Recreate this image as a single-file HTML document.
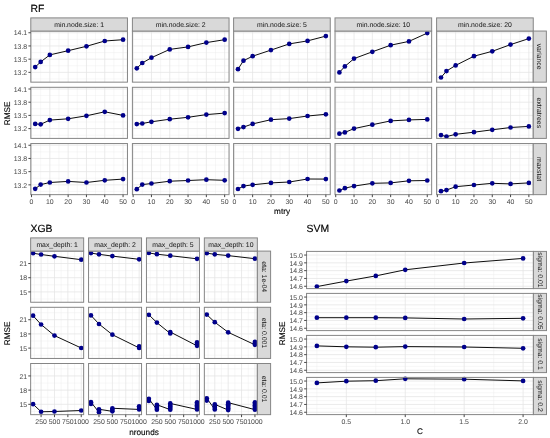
<!DOCTYPE html>
<html><head><meta charset="utf-8"><title>Model tuning results</title>
<style>html,body{margin:0;padding:0;background:#fff;}svg{display:block;filter:blur(0.35px);}</style>
</head><body>
<svg width="550" height="438" viewBox="0 0 550 438" font-family='"Liberation Sans", Arial, sans-serif' text-rendering="geometricPrecision">
<rect x="0" y="0" width="550" height="438" fill="#FFFFFF" stroke="none" stroke-width="0"/>
<rect x="30.8" y="31.05" width="96.65" height="51.1" fill="#FFFFFF" stroke="none" stroke-width="0"/>
<line x1="40.68" y1="31.05" x2="40.68" y2="82.15" stroke="#EBEBEB" stroke-width="0.4"/>
<line x1="58.99" y1="31.05" x2="58.99" y2="82.15" stroke="#EBEBEB" stroke-width="0.4"/>
<line x1="77.29" y1="31.05" x2="77.29" y2="82.15" stroke="#EBEBEB" stroke-width="0.4"/>
<line x1="95.6" y1="31.05" x2="95.6" y2="82.15" stroke="#EBEBEB" stroke-width="0.4"/>
<line x1="113.9" y1="31.05" x2="113.9" y2="82.15" stroke="#EBEBEB" stroke-width="0.4"/>
<line x1="30.8" y1="78.95" x2="127.45" y2="78.95" stroke="#EBEBEB" stroke-width="0.4"/>
<line x1="30.8" y1="65.75" x2="127.45" y2="65.75" stroke="#EBEBEB" stroke-width="0.4"/>
<line x1="30.8" y1="52.55" x2="127.45" y2="52.55" stroke="#EBEBEB" stroke-width="0.4"/>
<line x1="30.8" y1="39.35" x2="127.45" y2="39.35" stroke="#EBEBEB" stroke-width="0.4"/>
<line x1="31.53" y1="31.05" x2="31.53" y2="82.15" stroke="#E4E4E4" stroke-width="0.75"/>
<line x1="49.84" y1="31.05" x2="49.84" y2="82.15" stroke="#E4E4E4" stroke-width="0.75"/>
<line x1="68.14" y1="31.05" x2="68.14" y2="82.15" stroke="#E4E4E4" stroke-width="0.75"/>
<line x1="86.45" y1="31.05" x2="86.45" y2="82.15" stroke="#E4E4E4" stroke-width="0.75"/>
<line x1="104.75" y1="31.05" x2="104.75" y2="82.15" stroke="#E4E4E4" stroke-width="0.75"/>
<line x1="123.06" y1="31.05" x2="123.06" y2="82.15" stroke="#E4E4E4" stroke-width="0.75"/>
<line x1="30.8" y1="72.35" x2="127.45" y2="72.35" stroke="#E4E4E4" stroke-width="0.75"/>
<line x1="30.8" y1="59.15" x2="127.45" y2="59.15" stroke="#E4E4E4" stroke-width="0.75"/>
<line x1="30.8" y1="45.95" x2="127.45" y2="45.95" stroke="#E4E4E4" stroke-width="0.75"/>
<line x1="30.8" y1="32.75" x2="127.45" y2="32.75" stroke="#E4E4E4" stroke-width="0.75"/>
<polyline points="35.19,67.1 40.68,61.9 49.84,54.9 68.14,50.7 86.45,46.3 104.75,41 123.06,39.7" fill="none" stroke="#000000" stroke-width="0.95" stroke-linejoin="round"/>
<circle cx="35.19" cy="67.1" r="2.35" fill="#00008B"/>
<circle cx="40.68" cy="61.9" r="2.35" fill="#00008B"/>
<circle cx="49.84" cy="54.9" r="2.35" fill="#00008B"/>
<circle cx="68.14" cy="50.7" r="2.35" fill="#00008B"/>
<circle cx="86.45" cy="46.3" r="2.35" fill="#00008B"/>
<circle cx="104.75" cy="41" r="2.35" fill="#00008B"/>
<circle cx="123.06" cy="39.7" r="2.35" fill="#00008B"/>
<rect x="30.8" y="31.05" width="96.65" height="51.1" fill="none" stroke="#858585" stroke-width="1.0"/>
<rect x="132.4" y="31.05" width="96.65" height="51.1" fill="#FFFFFF" stroke="none" stroke-width="0"/>
<line x1="142.28" y1="31.05" x2="142.28" y2="82.15" stroke="#EBEBEB" stroke-width="0.4"/>
<line x1="160.59" y1="31.05" x2="160.59" y2="82.15" stroke="#EBEBEB" stroke-width="0.4"/>
<line x1="178.89" y1="31.05" x2="178.89" y2="82.15" stroke="#EBEBEB" stroke-width="0.4"/>
<line x1="197.2" y1="31.05" x2="197.2" y2="82.15" stroke="#EBEBEB" stroke-width="0.4"/>
<line x1="215.5" y1="31.05" x2="215.5" y2="82.15" stroke="#EBEBEB" stroke-width="0.4"/>
<line x1="132.4" y1="78.95" x2="229.05" y2="78.95" stroke="#EBEBEB" stroke-width="0.4"/>
<line x1="132.4" y1="65.75" x2="229.05" y2="65.75" stroke="#EBEBEB" stroke-width="0.4"/>
<line x1="132.4" y1="52.55" x2="229.05" y2="52.55" stroke="#EBEBEB" stroke-width="0.4"/>
<line x1="132.4" y1="39.35" x2="229.05" y2="39.35" stroke="#EBEBEB" stroke-width="0.4"/>
<line x1="133.13" y1="31.05" x2="133.13" y2="82.15" stroke="#E4E4E4" stroke-width="0.75"/>
<line x1="151.44" y1="31.05" x2="151.44" y2="82.15" stroke="#E4E4E4" stroke-width="0.75"/>
<line x1="169.74" y1="31.05" x2="169.74" y2="82.15" stroke="#E4E4E4" stroke-width="0.75"/>
<line x1="188.05" y1="31.05" x2="188.05" y2="82.15" stroke="#E4E4E4" stroke-width="0.75"/>
<line x1="206.35" y1="31.05" x2="206.35" y2="82.15" stroke="#E4E4E4" stroke-width="0.75"/>
<line x1="224.66" y1="31.05" x2="224.66" y2="82.15" stroke="#E4E4E4" stroke-width="0.75"/>
<line x1="132.4" y1="72.35" x2="229.05" y2="72.35" stroke="#E4E4E4" stroke-width="0.75"/>
<line x1="132.4" y1="59.15" x2="229.05" y2="59.15" stroke="#E4E4E4" stroke-width="0.75"/>
<line x1="132.4" y1="45.95" x2="229.05" y2="45.95" stroke="#E4E4E4" stroke-width="0.75"/>
<line x1="132.4" y1="32.75" x2="229.05" y2="32.75" stroke="#E4E4E4" stroke-width="0.75"/>
<polyline points="136.79,68.3 142.28,63 151.44,57.7 169.74,49.4 188.05,46.9 206.35,42.6 224.66,39.7" fill="none" stroke="#000000" stroke-width="0.95" stroke-linejoin="round"/>
<circle cx="136.79" cy="68.3" r="2.35" fill="#00008B"/>
<circle cx="142.28" cy="63" r="2.35" fill="#00008B"/>
<circle cx="151.44" cy="57.7" r="2.35" fill="#00008B"/>
<circle cx="169.74" cy="49.4" r="2.35" fill="#00008B"/>
<circle cx="188.05" cy="46.9" r="2.35" fill="#00008B"/>
<circle cx="206.35" cy="42.6" r="2.35" fill="#00008B"/>
<circle cx="224.66" cy="39.7" r="2.35" fill="#00008B"/>
<rect x="132.4" y="31.05" width="96.65" height="51.1" fill="none" stroke="#858585" stroke-width="1.0"/>
<rect x="233.6" y="31.05" width="96.65" height="51.1" fill="#FFFFFF" stroke="none" stroke-width="0"/>
<line x1="243.48" y1="31.05" x2="243.48" y2="82.15" stroke="#EBEBEB" stroke-width="0.4"/>
<line x1="261.79" y1="31.05" x2="261.79" y2="82.15" stroke="#EBEBEB" stroke-width="0.4"/>
<line x1="280.09" y1="31.05" x2="280.09" y2="82.15" stroke="#EBEBEB" stroke-width="0.4"/>
<line x1="298.4" y1="31.05" x2="298.4" y2="82.15" stroke="#EBEBEB" stroke-width="0.4"/>
<line x1="316.7" y1="31.05" x2="316.7" y2="82.15" stroke="#EBEBEB" stroke-width="0.4"/>
<line x1="233.6" y1="78.95" x2="330.25" y2="78.95" stroke="#EBEBEB" stroke-width="0.4"/>
<line x1="233.6" y1="65.75" x2="330.25" y2="65.75" stroke="#EBEBEB" stroke-width="0.4"/>
<line x1="233.6" y1="52.55" x2="330.25" y2="52.55" stroke="#EBEBEB" stroke-width="0.4"/>
<line x1="233.6" y1="39.35" x2="330.25" y2="39.35" stroke="#EBEBEB" stroke-width="0.4"/>
<line x1="234.33" y1="31.05" x2="234.33" y2="82.15" stroke="#E4E4E4" stroke-width="0.75"/>
<line x1="252.64" y1="31.05" x2="252.64" y2="82.15" stroke="#E4E4E4" stroke-width="0.75"/>
<line x1="270.94" y1="31.05" x2="270.94" y2="82.15" stroke="#E4E4E4" stroke-width="0.75"/>
<line x1="289.25" y1="31.05" x2="289.25" y2="82.15" stroke="#E4E4E4" stroke-width="0.75"/>
<line x1="307.55" y1="31.05" x2="307.55" y2="82.15" stroke="#E4E4E4" stroke-width="0.75"/>
<line x1="325.86" y1="31.05" x2="325.86" y2="82.15" stroke="#E4E4E4" stroke-width="0.75"/>
<line x1="233.6" y1="72.35" x2="330.25" y2="72.35" stroke="#E4E4E4" stroke-width="0.75"/>
<line x1="233.6" y1="59.15" x2="330.25" y2="59.15" stroke="#E4E4E4" stroke-width="0.75"/>
<line x1="233.6" y1="45.95" x2="330.25" y2="45.95" stroke="#E4E4E4" stroke-width="0.75"/>
<line x1="233.6" y1="32.75" x2="330.25" y2="32.75" stroke="#E4E4E4" stroke-width="0.75"/>
<polyline points="237.99,69.2 243.48,60.7 252.64,56.2 270.94,50.1 289.25,43.9 307.55,40.9 325.86,36.1" fill="none" stroke="#000000" stroke-width="0.95" stroke-linejoin="round"/>
<circle cx="237.99" cy="69.2" r="2.35" fill="#00008B"/>
<circle cx="243.48" cy="60.7" r="2.35" fill="#00008B"/>
<circle cx="252.64" cy="56.2" r="2.35" fill="#00008B"/>
<circle cx="270.94" cy="50.1" r="2.35" fill="#00008B"/>
<circle cx="289.25" cy="43.9" r="2.35" fill="#00008B"/>
<circle cx="307.55" cy="40.9" r="2.35" fill="#00008B"/>
<circle cx="325.86" cy="36.1" r="2.35" fill="#00008B"/>
<rect x="233.6" y="31.05" width="96.65" height="51.1" fill="none" stroke="#858585" stroke-width="1.0"/>
<rect x="335" y="31.05" width="96.65" height="51.1" fill="#FFFFFF" stroke="none" stroke-width="0"/>
<line x1="344.88" y1="31.05" x2="344.88" y2="82.15" stroke="#EBEBEB" stroke-width="0.4"/>
<line x1="363.19" y1="31.05" x2="363.19" y2="82.15" stroke="#EBEBEB" stroke-width="0.4"/>
<line x1="381.49" y1="31.05" x2="381.49" y2="82.15" stroke="#EBEBEB" stroke-width="0.4"/>
<line x1="399.8" y1="31.05" x2="399.8" y2="82.15" stroke="#EBEBEB" stroke-width="0.4"/>
<line x1="418.1" y1="31.05" x2="418.1" y2="82.15" stroke="#EBEBEB" stroke-width="0.4"/>
<line x1="335" y1="78.95" x2="431.65" y2="78.95" stroke="#EBEBEB" stroke-width="0.4"/>
<line x1="335" y1="65.75" x2="431.65" y2="65.75" stroke="#EBEBEB" stroke-width="0.4"/>
<line x1="335" y1="52.55" x2="431.65" y2="52.55" stroke="#EBEBEB" stroke-width="0.4"/>
<line x1="335" y1="39.35" x2="431.65" y2="39.35" stroke="#EBEBEB" stroke-width="0.4"/>
<line x1="335.73" y1="31.05" x2="335.73" y2="82.15" stroke="#E4E4E4" stroke-width="0.75"/>
<line x1="354.04" y1="31.05" x2="354.04" y2="82.15" stroke="#E4E4E4" stroke-width="0.75"/>
<line x1="372.34" y1="31.05" x2="372.34" y2="82.15" stroke="#E4E4E4" stroke-width="0.75"/>
<line x1="390.65" y1="31.05" x2="390.65" y2="82.15" stroke="#E4E4E4" stroke-width="0.75"/>
<line x1="408.95" y1="31.05" x2="408.95" y2="82.15" stroke="#E4E4E4" stroke-width="0.75"/>
<line x1="427.26" y1="31.05" x2="427.26" y2="82.15" stroke="#E4E4E4" stroke-width="0.75"/>
<line x1="335" y1="72.35" x2="431.65" y2="72.35" stroke="#E4E4E4" stroke-width="0.75"/>
<line x1="335" y1="59.15" x2="431.65" y2="59.15" stroke="#E4E4E4" stroke-width="0.75"/>
<line x1="335" y1="45.95" x2="431.65" y2="45.95" stroke="#E4E4E4" stroke-width="0.75"/>
<line x1="335" y1="32.75" x2="431.65" y2="32.75" stroke="#E4E4E4" stroke-width="0.75"/>
<polyline points="339.39,72.4 344.88,66.4 354.04,58.6 372.34,51.8 390.65,45.2 408.95,41.4 427.26,33.1" fill="none" stroke="#000000" stroke-width="0.95" stroke-linejoin="round"/>
<circle cx="339.39" cy="72.4" r="2.35" fill="#00008B"/>
<circle cx="344.88" cy="66.4" r="2.35" fill="#00008B"/>
<circle cx="354.04" cy="58.6" r="2.35" fill="#00008B"/>
<circle cx="372.34" cy="51.8" r="2.35" fill="#00008B"/>
<circle cx="390.65" cy="45.2" r="2.35" fill="#00008B"/>
<circle cx="408.95" cy="41.4" r="2.35" fill="#00008B"/>
<circle cx="427.26" cy="33.1" r="2.35" fill="#00008B"/>
<rect x="335" y="31.05" width="96.65" height="51.1" fill="none" stroke="#858585" stroke-width="1.0"/>
<rect x="436.6" y="31.05" width="96.65" height="51.1" fill="#FFFFFF" stroke="none" stroke-width="0"/>
<line x1="446.48" y1="31.05" x2="446.48" y2="82.15" stroke="#EBEBEB" stroke-width="0.4"/>
<line x1="464.79" y1="31.05" x2="464.79" y2="82.15" stroke="#EBEBEB" stroke-width="0.4"/>
<line x1="483.09" y1="31.05" x2="483.09" y2="82.15" stroke="#EBEBEB" stroke-width="0.4"/>
<line x1="501.4" y1="31.05" x2="501.4" y2="82.15" stroke="#EBEBEB" stroke-width="0.4"/>
<line x1="519.7" y1="31.05" x2="519.7" y2="82.15" stroke="#EBEBEB" stroke-width="0.4"/>
<line x1="436.6" y1="78.95" x2="533.25" y2="78.95" stroke="#EBEBEB" stroke-width="0.4"/>
<line x1="436.6" y1="65.75" x2="533.25" y2="65.75" stroke="#EBEBEB" stroke-width="0.4"/>
<line x1="436.6" y1="52.55" x2="533.25" y2="52.55" stroke="#EBEBEB" stroke-width="0.4"/>
<line x1="436.6" y1="39.35" x2="533.25" y2="39.35" stroke="#EBEBEB" stroke-width="0.4"/>
<line x1="437.33" y1="31.05" x2="437.33" y2="82.15" stroke="#E4E4E4" stroke-width="0.75"/>
<line x1="455.64" y1="31.05" x2="455.64" y2="82.15" stroke="#E4E4E4" stroke-width="0.75"/>
<line x1="473.94" y1="31.05" x2="473.94" y2="82.15" stroke="#E4E4E4" stroke-width="0.75"/>
<line x1="492.25" y1="31.05" x2="492.25" y2="82.15" stroke="#E4E4E4" stroke-width="0.75"/>
<line x1="510.55" y1="31.05" x2="510.55" y2="82.15" stroke="#E4E4E4" stroke-width="0.75"/>
<line x1="528.86" y1="31.05" x2="528.86" y2="82.15" stroke="#E4E4E4" stroke-width="0.75"/>
<line x1="436.6" y1="72.35" x2="533.25" y2="72.35" stroke="#E4E4E4" stroke-width="0.75"/>
<line x1="436.6" y1="59.15" x2="533.25" y2="59.15" stroke="#E4E4E4" stroke-width="0.75"/>
<line x1="436.6" y1="45.95" x2="533.25" y2="45.95" stroke="#E4E4E4" stroke-width="0.75"/>
<line x1="436.6" y1="32.75" x2="533.25" y2="32.75" stroke="#E4E4E4" stroke-width="0.75"/>
<polyline points="440.99,77.5 446.48,71.1 455.64,65.4 473.94,56.2 492.25,51.3 510.55,44.6 528.86,38.6" fill="none" stroke="#000000" stroke-width="0.95" stroke-linejoin="round"/>
<circle cx="440.99" cy="77.5" r="2.35" fill="#00008B"/>
<circle cx="446.48" cy="71.1" r="2.35" fill="#00008B"/>
<circle cx="455.64" cy="65.4" r="2.35" fill="#00008B"/>
<circle cx="473.94" cy="56.2" r="2.35" fill="#00008B"/>
<circle cx="492.25" cy="51.3" r="2.35" fill="#00008B"/>
<circle cx="510.55" cy="44.6" r="2.35" fill="#00008B"/>
<circle cx="528.86" cy="38.6" r="2.35" fill="#00008B"/>
<rect x="436.6" y="31.05" width="96.65" height="51.1" fill="none" stroke="#858585" stroke-width="1.0"/>
<rect x="30.8" y="87.3" width="96.65" height="51.1" fill="#FFFFFF" stroke="none" stroke-width="0"/>
<line x1="40.68" y1="87.3" x2="40.68" y2="138.4" stroke="#EBEBEB" stroke-width="0.4"/>
<line x1="58.99" y1="87.3" x2="58.99" y2="138.4" stroke="#EBEBEB" stroke-width="0.4"/>
<line x1="77.29" y1="87.3" x2="77.29" y2="138.4" stroke="#EBEBEB" stroke-width="0.4"/>
<line x1="95.6" y1="87.3" x2="95.6" y2="138.4" stroke="#EBEBEB" stroke-width="0.4"/>
<line x1="113.9" y1="87.3" x2="113.9" y2="138.4" stroke="#EBEBEB" stroke-width="0.4"/>
<line x1="30.8" y1="135.2" x2="127.45" y2="135.2" stroke="#EBEBEB" stroke-width="0.4"/>
<line x1="30.8" y1="122" x2="127.45" y2="122" stroke="#EBEBEB" stroke-width="0.4"/>
<line x1="30.8" y1="108.8" x2="127.45" y2="108.8" stroke="#EBEBEB" stroke-width="0.4"/>
<line x1="30.8" y1="95.6" x2="127.45" y2="95.6" stroke="#EBEBEB" stroke-width="0.4"/>
<line x1="31.53" y1="87.3" x2="31.53" y2="138.4" stroke="#E4E4E4" stroke-width="0.75"/>
<line x1="49.84" y1="87.3" x2="49.84" y2="138.4" stroke="#E4E4E4" stroke-width="0.75"/>
<line x1="68.14" y1="87.3" x2="68.14" y2="138.4" stroke="#E4E4E4" stroke-width="0.75"/>
<line x1="86.45" y1="87.3" x2="86.45" y2="138.4" stroke="#E4E4E4" stroke-width="0.75"/>
<line x1="104.75" y1="87.3" x2="104.75" y2="138.4" stroke="#E4E4E4" stroke-width="0.75"/>
<line x1="123.06" y1="87.3" x2="123.06" y2="138.4" stroke="#E4E4E4" stroke-width="0.75"/>
<line x1="30.8" y1="128.6" x2="127.45" y2="128.6" stroke="#E4E4E4" stroke-width="0.75"/>
<line x1="30.8" y1="115.4" x2="127.45" y2="115.4" stroke="#E4E4E4" stroke-width="0.75"/>
<line x1="30.8" y1="102.2" x2="127.45" y2="102.2" stroke="#E4E4E4" stroke-width="0.75"/>
<line x1="30.8" y1="89" x2="127.45" y2="89" stroke="#E4E4E4" stroke-width="0.75"/>
<polyline points="35.19,123.9 40.68,124.3 49.84,120.1 68.14,118.8 86.45,115.8 104.75,111.8 123.06,115.4" fill="none" stroke="#000000" stroke-width="0.95" stroke-linejoin="round"/>
<circle cx="35.19" cy="123.9" r="2.35" fill="#00008B"/>
<circle cx="40.68" cy="124.3" r="2.35" fill="#00008B"/>
<circle cx="49.84" cy="120.1" r="2.35" fill="#00008B"/>
<circle cx="68.14" cy="118.8" r="2.35" fill="#00008B"/>
<circle cx="86.45" cy="115.8" r="2.35" fill="#00008B"/>
<circle cx="104.75" cy="111.8" r="2.35" fill="#00008B"/>
<circle cx="123.06" cy="115.4" r="2.35" fill="#00008B"/>
<rect x="30.8" y="87.3" width="96.65" height="51.1" fill="none" stroke="#858585" stroke-width="1.0"/>
<rect x="132.4" y="87.3" width="96.65" height="51.1" fill="#FFFFFF" stroke="none" stroke-width="0"/>
<line x1="142.28" y1="87.3" x2="142.28" y2="138.4" stroke="#EBEBEB" stroke-width="0.4"/>
<line x1="160.59" y1="87.3" x2="160.59" y2="138.4" stroke="#EBEBEB" stroke-width="0.4"/>
<line x1="178.89" y1="87.3" x2="178.89" y2="138.4" stroke="#EBEBEB" stroke-width="0.4"/>
<line x1="197.2" y1="87.3" x2="197.2" y2="138.4" stroke="#EBEBEB" stroke-width="0.4"/>
<line x1="215.5" y1="87.3" x2="215.5" y2="138.4" stroke="#EBEBEB" stroke-width="0.4"/>
<line x1="132.4" y1="135.2" x2="229.05" y2="135.2" stroke="#EBEBEB" stroke-width="0.4"/>
<line x1="132.4" y1="122" x2="229.05" y2="122" stroke="#EBEBEB" stroke-width="0.4"/>
<line x1="132.4" y1="108.8" x2="229.05" y2="108.8" stroke="#EBEBEB" stroke-width="0.4"/>
<line x1="132.4" y1="95.6" x2="229.05" y2="95.6" stroke="#EBEBEB" stroke-width="0.4"/>
<line x1="133.13" y1="87.3" x2="133.13" y2="138.4" stroke="#E4E4E4" stroke-width="0.75"/>
<line x1="151.44" y1="87.3" x2="151.44" y2="138.4" stroke="#E4E4E4" stroke-width="0.75"/>
<line x1="169.74" y1="87.3" x2="169.74" y2="138.4" stroke="#E4E4E4" stroke-width="0.75"/>
<line x1="188.05" y1="87.3" x2="188.05" y2="138.4" stroke="#E4E4E4" stroke-width="0.75"/>
<line x1="206.35" y1="87.3" x2="206.35" y2="138.4" stroke="#E4E4E4" stroke-width="0.75"/>
<line x1="224.66" y1="87.3" x2="224.66" y2="138.4" stroke="#E4E4E4" stroke-width="0.75"/>
<line x1="132.4" y1="128.6" x2="229.05" y2="128.6" stroke="#E4E4E4" stroke-width="0.75"/>
<line x1="132.4" y1="115.4" x2="229.05" y2="115.4" stroke="#E4E4E4" stroke-width="0.75"/>
<line x1="132.4" y1="102.2" x2="229.05" y2="102.2" stroke="#E4E4E4" stroke-width="0.75"/>
<line x1="132.4" y1="89" x2="229.05" y2="89" stroke="#E4E4E4" stroke-width="0.75"/>
<polyline points="136.79,124.1 142.28,123.5 151.44,121.8 169.74,119.2 188.05,117.3 206.35,114.6 224.66,113.1" fill="none" stroke="#000000" stroke-width="0.95" stroke-linejoin="round"/>
<circle cx="136.79" cy="124.1" r="2.35" fill="#00008B"/>
<circle cx="142.28" cy="123.5" r="2.35" fill="#00008B"/>
<circle cx="151.44" cy="121.8" r="2.35" fill="#00008B"/>
<circle cx="169.74" cy="119.2" r="2.35" fill="#00008B"/>
<circle cx="188.05" cy="117.3" r="2.35" fill="#00008B"/>
<circle cx="206.35" cy="114.6" r="2.35" fill="#00008B"/>
<circle cx="224.66" cy="113.1" r="2.35" fill="#00008B"/>
<rect x="132.4" y="87.3" width="96.65" height="51.1" fill="none" stroke="#858585" stroke-width="1.0"/>
<rect x="233.6" y="87.3" width="96.65" height="51.1" fill="#FFFFFF" stroke="none" stroke-width="0"/>
<line x1="243.48" y1="87.3" x2="243.48" y2="138.4" stroke="#EBEBEB" stroke-width="0.4"/>
<line x1="261.79" y1="87.3" x2="261.79" y2="138.4" stroke="#EBEBEB" stroke-width="0.4"/>
<line x1="280.09" y1="87.3" x2="280.09" y2="138.4" stroke="#EBEBEB" stroke-width="0.4"/>
<line x1="298.4" y1="87.3" x2="298.4" y2="138.4" stroke="#EBEBEB" stroke-width="0.4"/>
<line x1="316.7" y1="87.3" x2="316.7" y2="138.4" stroke="#EBEBEB" stroke-width="0.4"/>
<line x1="233.6" y1="135.2" x2="330.25" y2="135.2" stroke="#EBEBEB" stroke-width="0.4"/>
<line x1="233.6" y1="122" x2="330.25" y2="122" stroke="#EBEBEB" stroke-width="0.4"/>
<line x1="233.6" y1="108.8" x2="330.25" y2="108.8" stroke="#EBEBEB" stroke-width="0.4"/>
<line x1="233.6" y1="95.6" x2="330.25" y2="95.6" stroke="#EBEBEB" stroke-width="0.4"/>
<line x1="234.33" y1="87.3" x2="234.33" y2="138.4" stroke="#E4E4E4" stroke-width="0.75"/>
<line x1="252.64" y1="87.3" x2="252.64" y2="138.4" stroke="#E4E4E4" stroke-width="0.75"/>
<line x1="270.94" y1="87.3" x2="270.94" y2="138.4" stroke="#E4E4E4" stroke-width="0.75"/>
<line x1="289.25" y1="87.3" x2="289.25" y2="138.4" stroke="#E4E4E4" stroke-width="0.75"/>
<line x1="307.55" y1="87.3" x2="307.55" y2="138.4" stroke="#E4E4E4" stroke-width="0.75"/>
<line x1="325.86" y1="87.3" x2="325.86" y2="138.4" stroke="#E4E4E4" stroke-width="0.75"/>
<line x1="233.6" y1="128.6" x2="330.25" y2="128.6" stroke="#E4E4E4" stroke-width="0.75"/>
<line x1="233.6" y1="115.4" x2="330.25" y2="115.4" stroke="#E4E4E4" stroke-width="0.75"/>
<line x1="233.6" y1="102.2" x2="330.25" y2="102.2" stroke="#E4E4E4" stroke-width="0.75"/>
<line x1="233.6" y1="89" x2="330.25" y2="89" stroke="#E4E4E4" stroke-width="0.75"/>
<polyline points="237.99,128.8 243.48,127.1 252.64,123.9 270.94,119.7 289.25,118.6 307.55,116 325.86,114.3" fill="none" stroke="#000000" stroke-width="0.95" stroke-linejoin="round"/>
<circle cx="237.99" cy="128.8" r="2.35" fill="#00008B"/>
<circle cx="243.48" cy="127.1" r="2.35" fill="#00008B"/>
<circle cx="252.64" cy="123.9" r="2.35" fill="#00008B"/>
<circle cx="270.94" cy="119.7" r="2.35" fill="#00008B"/>
<circle cx="289.25" cy="118.6" r="2.35" fill="#00008B"/>
<circle cx="307.55" cy="116" r="2.35" fill="#00008B"/>
<circle cx="325.86" cy="114.3" r="2.35" fill="#00008B"/>
<rect x="233.6" y="87.3" width="96.65" height="51.1" fill="none" stroke="#858585" stroke-width="1.0"/>
<rect x="335" y="87.3" width="96.65" height="51.1" fill="#FFFFFF" stroke="none" stroke-width="0"/>
<line x1="344.88" y1="87.3" x2="344.88" y2="138.4" stroke="#EBEBEB" stroke-width="0.4"/>
<line x1="363.19" y1="87.3" x2="363.19" y2="138.4" stroke="#EBEBEB" stroke-width="0.4"/>
<line x1="381.49" y1="87.3" x2="381.49" y2="138.4" stroke="#EBEBEB" stroke-width="0.4"/>
<line x1="399.8" y1="87.3" x2="399.8" y2="138.4" stroke="#EBEBEB" stroke-width="0.4"/>
<line x1="418.1" y1="87.3" x2="418.1" y2="138.4" stroke="#EBEBEB" stroke-width="0.4"/>
<line x1="335" y1="135.2" x2="431.65" y2="135.2" stroke="#EBEBEB" stroke-width="0.4"/>
<line x1="335" y1="122" x2="431.65" y2="122" stroke="#EBEBEB" stroke-width="0.4"/>
<line x1="335" y1="108.8" x2="431.65" y2="108.8" stroke="#EBEBEB" stroke-width="0.4"/>
<line x1="335" y1="95.6" x2="431.65" y2="95.6" stroke="#EBEBEB" stroke-width="0.4"/>
<line x1="335.73" y1="87.3" x2="335.73" y2="138.4" stroke="#E4E4E4" stroke-width="0.75"/>
<line x1="354.04" y1="87.3" x2="354.04" y2="138.4" stroke="#E4E4E4" stroke-width="0.75"/>
<line x1="372.34" y1="87.3" x2="372.34" y2="138.4" stroke="#E4E4E4" stroke-width="0.75"/>
<line x1="390.65" y1="87.3" x2="390.65" y2="138.4" stroke="#E4E4E4" stroke-width="0.75"/>
<line x1="408.95" y1="87.3" x2="408.95" y2="138.4" stroke="#E4E4E4" stroke-width="0.75"/>
<line x1="427.26" y1="87.3" x2="427.26" y2="138.4" stroke="#E4E4E4" stroke-width="0.75"/>
<line x1="335" y1="128.6" x2="431.65" y2="128.6" stroke="#E4E4E4" stroke-width="0.75"/>
<line x1="335" y1="115.4" x2="431.65" y2="115.4" stroke="#E4E4E4" stroke-width="0.75"/>
<line x1="335" y1="102.2" x2="431.65" y2="102.2" stroke="#E4E4E4" stroke-width="0.75"/>
<line x1="335" y1="89" x2="431.65" y2="89" stroke="#E4E4E4" stroke-width="0.75"/>
<polyline points="339.39,133.7 344.88,132.4 354.04,128.6 372.34,124.7 390.65,120.9 408.95,119.9 427.26,119.4" fill="none" stroke="#000000" stroke-width="0.95" stroke-linejoin="round"/>
<circle cx="339.39" cy="133.7" r="2.35" fill="#00008B"/>
<circle cx="344.88" cy="132.4" r="2.35" fill="#00008B"/>
<circle cx="354.04" cy="128.6" r="2.35" fill="#00008B"/>
<circle cx="372.34" cy="124.7" r="2.35" fill="#00008B"/>
<circle cx="390.65" cy="120.9" r="2.35" fill="#00008B"/>
<circle cx="408.95" cy="119.9" r="2.35" fill="#00008B"/>
<circle cx="427.26" cy="119.4" r="2.35" fill="#00008B"/>
<rect x="335" y="87.3" width="96.65" height="51.1" fill="none" stroke="#858585" stroke-width="1.0"/>
<rect x="436.6" y="87.3" width="96.65" height="51.1" fill="#FFFFFF" stroke="none" stroke-width="0"/>
<line x1="446.48" y1="87.3" x2="446.48" y2="138.4" stroke="#EBEBEB" stroke-width="0.4"/>
<line x1="464.79" y1="87.3" x2="464.79" y2="138.4" stroke="#EBEBEB" stroke-width="0.4"/>
<line x1="483.09" y1="87.3" x2="483.09" y2="138.4" stroke="#EBEBEB" stroke-width="0.4"/>
<line x1="501.4" y1="87.3" x2="501.4" y2="138.4" stroke="#EBEBEB" stroke-width="0.4"/>
<line x1="519.7" y1="87.3" x2="519.7" y2="138.4" stroke="#EBEBEB" stroke-width="0.4"/>
<line x1="436.6" y1="135.2" x2="533.25" y2="135.2" stroke="#EBEBEB" stroke-width="0.4"/>
<line x1="436.6" y1="122" x2="533.25" y2="122" stroke="#EBEBEB" stroke-width="0.4"/>
<line x1="436.6" y1="108.8" x2="533.25" y2="108.8" stroke="#EBEBEB" stroke-width="0.4"/>
<line x1="436.6" y1="95.6" x2="533.25" y2="95.6" stroke="#EBEBEB" stroke-width="0.4"/>
<line x1="437.33" y1="87.3" x2="437.33" y2="138.4" stroke="#E4E4E4" stroke-width="0.75"/>
<line x1="455.64" y1="87.3" x2="455.64" y2="138.4" stroke="#E4E4E4" stroke-width="0.75"/>
<line x1="473.94" y1="87.3" x2="473.94" y2="138.4" stroke="#E4E4E4" stroke-width="0.75"/>
<line x1="492.25" y1="87.3" x2="492.25" y2="138.4" stroke="#E4E4E4" stroke-width="0.75"/>
<line x1="510.55" y1="87.3" x2="510.55" y2="138.4" stroke="#E4E4E4" stroke-width="0.75"/>
<line x1="528.86" y1="87.3" x2="528.86" y2="138.4" stroke="#E4E4E4" stroke-width="0.75"/>
<line x1="436.6" y1="128.6" x2="533.25" y2="128.6" stroke="#E4E4E4" stroke-width="0.75"/>
<line x1="436.6" y1="115.4" x2="533.25" y2="115.4" stroke="#E4E4E4" stroke-width="0.75"/>
<line x1="436.6" y1="102.2" x2="533.25" y2="102.2" stroke="#E4E4E4" stroke-width="0.75"/>
<line x1="436.6" y1="89" x2="533.25" y2="89" stroke="#E4E4E4" stroke-width="0.75"/>
<polyline points="440.99,135.1 446.48,136.6 455.64,134.3 473.94,132.2 492.25,129.8 510.55,127.5 528.86,126.4" fill="none" stroke="#000000" stroke-width="0.95" stroke-linejoin="round"/>
<circle cx="440.99" cy="135.1" r="2.35" fill="#00008B"/>
<circle cx="446.48" cy="136.6" r="2.35" fill="#00008B"/>
<circle cx="455.64" cy="134.3" r="2.35" fill="#00008B"/>
<circle cx="473.94" cy="132.2" r="2.35" fill="#00008B"/>
<circle cx="492.25" cy="129.8" r="2.35" fill="#00008B"/>
<circle cx="510.55" cy="127.5" r="2.35" fill="#00008B"/>
<circle cx="528.86" cy="126.4" r="2.35" fill="#00008B"/>
<rect x="436.6" y="87.3" width="96.65" height="51.1" fill="none" stroke="#858585" stroke-width="1.0"/>
<rect x="30.8" y="143.55" width="96.65" height="51.1" fill="#FFFFFF" stroke="none" stroke-width="0"/>
<line x1="40.68" y1="143.55" x2="40.68" y2="194.65" stroke="#EBEBEB" stroke-width="0.4"/>
<line x1="58.99" y1="143.55" x2="58.99" y2="194.65" stroke="#EBEBEB" stroke-width="0.4"/>
<line x1="77.29" y1="143.55" x2="77.29" y2="194.65" stroke="#EBEBEB" stroke-width="0.4"/>
<line x1="95.6" y1="143.55" x2="95.6" y2="194.65" stroke="#EBEBEB" stroke-width="0.4"/>
<line x1="113.9" y1="143.55" x2="113.9" y2="194.65" stroke="#EBEBEB" stroke-width="0.4"/>
<line x1="30.8" y1="191.45" x2="127.45" y2="191.45" stroke="#EBEBEB" stroke-width="0.4"/>
<line x1="30.8" y1="178.25" x2="127.45" y2="178.25" stroke="#EBEBEB" stroke-width="0.4"/>
<line x1="30.8" y1="165.05" x2="127.45" y2="165.05" stroke="#EBEBEB" stroke-width="0.4"/>
<line x1="30.8" y1="151.85" x2="127.45" y2="151.85" stroke="#EBEBEB" stroke-width="0.4"/>
<line x1="31.53" y1="143.55" x2="31.53" y2="194.65" stroke="#E4E4E4" stroke-width="0.75"/>
<line x1="49.84" y1="143.55" x2="49.84" y2="194.65" stroke="#E4E4E4" stroke-width="0.75"/>
<line x1="68.14" y1="143.55" x2="68.14" y2="194.65" stroke="#E4E4E4" stroke-width="0.75"/>
<line x1="86.45" y1="143.55" x2="86.45" y2="194.65" stroke="#E4E4E4" stroke-width="0.75"/>
<line x1="104.75" y1="143.55" x2="104.75" y2="194.65" stroke="#E4E4E4" stroke-width="0.75"/>
<line x1="123.06" y1="143.55" x2="123.06" y2="194.65" stroke="#E4E4E4" stroke-width="0.75"/>
<line x1="30.8" y1="184.85" x2="127.45" y2="184.85" stroke="#E4E4E4" stroke-width="0.75"/>
<line x1="30.8" y1="171.65" x2="127.45" y2="171.65" stroke="#E4E4E4" stroke-width="0.75"/>
<line x1="30.8" y1="158.45" x2="127.45" y2="158.45" stroke="#E4E4E4" stroke-width="0.75"/>
<line x1="30.8" y1="145.25" x2="127.45" y2="145.25" stroke="#E4E4E4" stroke-width="0.75"/>
<polyline points="35.19,188.8 40.68,184.6 49.84,182.5 68.14,181.4 86.45,182.5 104.75,180.3 123.06,179.1" fill="none" stroke="#000000" stroke-width="0.95" stroke-linejoin="round"/>
<circle cx="35.19" cy="188.8" r="2.35" fill="#00008B"/>
<circle cx="40.68" cy="184.6" r="2.35" fill="#00008B"/>
<circle cx="49.84" cy="182.5" r="2.35" fill="#00008B"/>
<circle cx="68.14" cy="181.4" r="2.35" fill="#00008B"/>
<circle cx="86.45" cy="182.5" r="2.35" fill="#00008B"/>
<circle cx="104.75" cy="180.3" r="2.35" fill="#00008B"/>
<circle cx="123.06" cy="179.1" r="2.35" fill="#00008B"/>
<rect x="30.8" y="143.55" width="96.65" height="51.1" fill="none" stroke="#858585" stroke-width="1.0"/>
<rect x="132.4" y="143.55" width="96.65" height="51.1" fill="#FFFFFF" stroke="none" stroke-width="0"/>
<line x1="142.28" y1="143.55" x2="142.28" y2="194.65" stroke="#EBEBEB" stroke-width="0.4"/>
<line x1="160.59" y1="143.55" x2="160.59" y2="194.65" stroke="#EBEBEB" stroke-width="0.4"/>
<line x1="178.89" y1="143.55" x2="178.89" y2="194.65" stroke="#EBEBEB" stroke-width="0.4"/>
<line x1="197.2" y1="143.55" x2="197.2" y2="194.65" stroke="#EBEBEB" stroke-width="0.4"/>
<line x1="215.5" y1="143.55" x2="215.5" y2="194.65" stroke="#EBEBEB" stroke-width="0.4"/>
<line x1="132.4" y1="191.45" x2="229.05" y2="191.45" stroke="#EBEBEB" stroke-width="0.4"/>
<line x1="132.4" y1="178.25" x2="229.05" y2="178.25" stroke="#EBEBEB" stroke-width="0.4"/>
<line x1="132.4" y1="165.05" x2="229.05" y2="165.05" stroke="#EBEBEB" stroke-width="0.4"/>
<line x1="132.4" y1="151.85" x2="229.05" y2="151.85" stroke="#EBEBEB" stroke-width="0.4"/>
<line x1="133.13" y1="143.55" x2="133.13" y2="194.65" stroke="#E4E4E4" stroke-width="0.75"/>
<line x1="151.44" y1="143.55" x2="151.44" y2="194.65" stroke="#E4E4E4" stroke-width="0.75"/>
<line x1="169.74" y1="143.55" x2="169.74" y2="194.65" stroke="#E4E4E4" stroke-width="0.75"/>
<line x1="188.05" y1="143.55" x2="188.05" y2="194.65" stroke="#E4E4E4" stroke-width="0.75"/>
<line x1="206.35" y1="143.55" x2="206.35" y2="194.65" stroke="#E4E4E4" stroke-width="0.75"/>
<line x1="224.66" y1="143.55" x2="224.66" y2="194.65" stroke="#E4E4E4" stroke-width="0.75"/>
<line x1="132.4" y1="184.85" x2="229.05" y2="184.85" stroke="#E4E4E4" stroke-width="0.75"/>
<line x1="132.4" y1="171.65" x2="229.05" y2="171.65" stroke="#E4E4E4" stroke-width="0.75"/>
<line x1="132.4" y1="158.45" x2="229.05" y2="158.45" stroke="#E4E4E4" stroke-width="0.75"/>
<line x1="132.4" y1="145.25" x2="229.05" y2="145.25" stroke="#E4E4E4" stroke-width="0.75"/>
<polyline points="136.79,189.2 142.28,184.6 151.44,183.5 169.74,181.2 188.05,180.5 206.35,179.7 224.66,180.3" fill="none" stroke="#000000" stroke-width="0.95" stroke-linejoin="round"/>
<circle cx="136.79" cy="189.2" r="2.35" fill="#00008B"/>
<circle cx="142.28" cy="184.6" r="2.35" fill="#00008B"/>
<circle cx="151.44" cy="183.5" r="2.35" fill="#00008B"/>
<circle cx="169.74" cy="181.2" r="2.35" fill="#00008B"/>
<circle cx="188.05" cy="180.5" r="2.35" fill="#00008B"/>
<circle cx="206.35" cy="179.7" r="2.35" fill="#00008B"/>
<circle cx="224.66" cy="180.3" r="2.35" fill="#00008B"/>
<rect x="132.4" y="143.55" width="96.65" height="51.1" fill="none" stroke="#858585" stroke-width="1.0"/>
<rect x="233.6" y="143.55" width="96.65" height="51.1" fill="#FFFFFF" stroke="none" stroke-width="0"/>
<line x1="243.48" y1="143.55" x2="243.48" y2="194.65" stroke="#EBEBEB" stroke-width="0.4"/>
<line x1="261.79" y1="143.55" x2="261.79" y2="194.65" stroke="#EBEBEB" stroke-width="0.4"/>
<line x1="280.09" y1="143.55" x2="280.09" y2="194.65" stroke="#EBEBEB" stroke-width="0.4"/>
<line x1="298.4" y1="143.55" x2="298.4" y2="194.65" stroke="#EBEBEB" stroke-width="0.4"/>
<line x1="316.7" y1="143.55" x2="316.7" y2="194.65" stroke="#EBEBEB" stroke-width="0.4"/>
<line x1="233.6" y1="191.45" x2="330.25" y2="191.45" stroke="#EBEBEB" stroke-width="0.4"/>
<line x1="233.6" y1="178.25" x2="330.25" y2="178.25" stroke="#EBEBEB" stroke-width="0.4"/>
<line x1="233.6" y1="165.05" x2="330.25" y2="165.05" stroke="#EBEBEB" stroke-width="0.4"/>
<line x1="233.6" y1="151.85" x2="330.25" y2="151.85" stroke="#EBEBEB" stroke-width="0.4"/>
<line x1="234.33" y1="143.55" x2="234.33" y2="194.65" stroke="#E4E4E4" stroke-width="0.75"/>
<line x1="252.64" y1="143.55" x2="252.64" y2="194.65" stroke="#E4E4E4" stroke-width="0.75"/>
<line x1="270.94" y1="143.55" x2="270.94" y2="194.65" stroke="#E4E4E4" stroke-width="0.75"/>
<line x1="289.25" y1="143.55" x2="289.25" y2="194.65" stroke="#E4E4E4" stroke-width="0.75"/>
<line x1="307.55" y1="143.55" x2="307.55" y2="194.65" stroke="#E4E4E4" stroke-width="0.75"/>
<line x1="325.86" y1="143.55" x2="325.86" y2="194.65" stroke="#E4E4E4" stroke-width="0.75"/>
<line x1="233.6" y1="184.85" x2="330.25" y2="184.85" stroke="#E4E4E4" stroke-width="0.75"/>
<line x1="233.6" y1="171.65" x2="330.25" y2="171.65" stroke="#E4E4E4" stroke-width="0.75"/>
<line x1="233.6" y1="158.45" x2="330.25" y2="158.45" stroke="#E4E4E4" stroke-width="0.75"/>
<line x1="233.6" y1="145.25" x2="330.25" y2="145.25" stroke="#E4E4E4" stroke-width="0.75"/>
<polyline points="237.99,189 243.48,186.1 252.64,184.8 270.94,182.9 289.25,182 307.55,179 325.86,179.1" fill="none" stroke="#000000" stroke-width="0.95" stroke-linejoin="round"/>
<circle cx="237.99" cy="189" r="2.35" fill="#00008B"/>
<circle cx="243.48" cy="186.1" r="2.35" fill="#00008B"/>
<circle cx="252.64" cy="184.8" r="2.35" fill="#00008B"/>
<circle cx="270.94" cy="182.9" r="2.35" fill="#00008B"/>
<circle cx="289.25" cy="182" r="2.35" fill="#00008B"/>
<circle cx="307.55" cy="179" r="2.35" fill="#00008B"/>
<circle cx="325.86" cy="179.1" r="2.35" fill="#00008B"/>
<rect x="233.6" y="143.55" width="96.65" height="51.1" fill="none" stroke="#858585" stroke-width="1.0"/>
<rect x="335" y="143.55" width="96.65" height="51.1" fill="#FFFFFF" stroke="none" stroke-width="0"/>
<line x1="344.88" y1="143.55" x2="344.88" y2="194.65" stroke="#EBEBEB" stroke-width="0.4"/>
<line x1="363.19" y1="143.55" x2="363.19" y2="194.65" stroke="#EBEBEB" stroke-width="0.4"/>
<line x1="381.49" y1="143.55" x2="381.49" y2="194.65" stroke="#EBEBEB" stroke-width="0.4"/>
<line x1="399.8" y1="143.55" x2="399.8" y2="194.65" stroke="#EBEBEB" stroke-width="0.4"/>
<line x1="418.1" y1="143.55" x2="418.1" y2="194.65" stroke="#EBEBEB" stroke-width="0.4"/>
<line x1="335" y1="191.45" x2="431.65" y2="191.45" stroke="#EBEBEB" stroke-width="0.4"/>
<line x1="335" y1="178.25" x2="431.65" y2="178.25" stroke="#EBEBEB" stroke-width="0.4"/>
<line x1="335" y1="165.05" x2="431.65" y2="165.05" stroke="#EBEBEB" stroke-width="0.4"/>
<line x1="335" y1="151.85" x2="431.65" y2="151.85" stroke="#EBEBEB" stroke-width="0.4"/>
<line x1="335.73" y1="143.55" x2="335.73" y2="194.65" stroke="#E4E4E4" stroke-width="0.75"/>
<line x1="354.04" y1="143.55" x2="354.04" y2="194.65" stroke="#E4E4E4" stroke-width="0.75"/>
<line x1="372.34" y1="143.55" x2="372.34" y2="194.65" stroke="#E4E4E4" stroke-width="0.75"/>
<line x1="390.65" y1="143.55" x2="390.65" y2="194.65" stroke="#E4E4E4" stroke-width="0.75"/>
<line x1="408.95" y1="143.55" x2="408.95" y2="194.65" stroke="#E4E4E4" stroke-width="0.75"/>
<line x1="427.26" y1="143.55" x2="427.26" y2="194.65" stroke="#E4E4E4" stroke-width="0.75"/>
<line x1="335" y1="184.85" x2="431.65" y2="184.85" stroke="#E4E4E4" stroke-width="0.75"/>
<line x1="335" y1="171.65" x2="431.65" y2="171.65" stroke="#E4E4E4" stroke-width="0.75"/>
<line x1="335" y1="158.45" x2="431.65" y2="158.45" stroke="#E4E4E4" stroke-width="0.75"/>
<line x1="335" y1="145.25" x2="431.65" y2="145.25" stroke="#E4E4E4" stroke-width="0.75"/>
<polyline points="339.39,190.5 344.88,188.2 354.04,186.1 372.34,183.3 390.65,182.9 408.95,180.8 427.26,180.5" fill="none" stroke="#000000" stroke-width="0.95" stroke-linejoin="round"/>
<circle cx="339.39" cy="190.5" r="2.35" fill="#00008B"/>
<circle cx="344.88" cy="188.2" r="2.35" fill="#00008B"/>
<circle cx="354.04" cy="186.1" r="2.35" fill="#00008B"/>
<circle cx="372.34" cy="183.3" r="2.35" fill="#00008B"/>
<circle cx="390.65" cy="182.9" r="2.35" fill="#00008B"/>
<circle cx="408.95" cy="180.8" r="2.35" fill="#00008B"/>
<circle cx="427.26" cy="180.5" r="2.35" fill="#00008B"/>
<rect x="335" y="143.55" width="96.65" height="51.1" fill="none" stroke="#858585" stroke-width="1.0"/>
<rect x="436.6" y="143.55" width="96.65" height="51.1" fill="#FFFFFF" stroke="none" stroke-width="0"/>
<line x1="446.48" y1="143.55" x2="446.48" y2="194.65" stroke="#EBEBEB" stroke-width="0.4"/>
<line x1="464.79" y1="143.55" x2="464.79" y2="194.65" stroke="#EBEBEB" stroke-width="0.4"/>
<line x1="483.09" y1="143.55" x2="483.09" y2="194.65" stroke="#EBEBEB" stroke-width="0.4"/>
<line x1="501.4" y1="143.55" x2="501.4" y2="194.65" stroke="#EBEBEB" stroke-width="0.4"/>
<line x1="519.7" y1="143.55" x2="519.7" y2="194.65" stroke="#EBEBEB" stroke-width="0.4"/>
<line x1="436.6" y1="191.45" x2="533.25" y2="191.45" stroke="#EBEBEB" stroke-width="0.4"/>
<line x1="436.6" y1="178.25" x2="533.25" y2="178.25" stroke="#EBEBEB" stroke-width="0.4"/>
<line x1="436.6" y1="165.05" x2="533.25" y2="165.05" stroke="#EBEBEB" stroke-width="0.4"/>
<line x1="436.6" y1="151.85" x2="533.25" y2="151.85" stroke="#EBEBEB" stroke-width="0.4"/>
<line x1="437.33" y1="143.55" x2="437.33" y2="194.65" stroke="#E4E4E4" stroke-width="0.75"/>
<line x1="455.64" y1="143.55" x2="455.64" y2="194.65" stroke="#E4E4E4" stroke-width="0.75"/>
<line x1="473.94" y1="143.55" x2="473.94" y2="194.65" stroke="#E4E4E4" stroke-width="0.75"/>
<line x1="492.25" y1="143.55" x2="492.25" y2="194.65" stroke="#E4E4E4" stroke-width="0.75"/>
<line x1="510.55" y1="143.55" x2="510.55" y2="194.65" stroke="#E4E4E4" stroke-width="0.75"/>
<line x1="528.86" y1="143.55" x2="528.86" y2="194.65" stroke="#E4E4E4" stroke-width="0.75"/>
<line x1="436.6" y1="184.85" x2="533.25" y2="184.85" stroke="#E4E4E4" stroke-width="0.75"/>
<line x1="436.6" y1="171.65" x2="533.25" y2="171.65" stroke="#E4E4E4" stroke-width="0.75"/>
<line x1="436.6" y1="158.45" x2="533.25" y2="158.45" stroke="#E4E4E4" stroke-width="0.75"/>
<line x1="436.6" y1="145.25" x2="533.25" y2="145.25" stroke="#E4E4E4" stroke-width="0.75"/>
<polyline points="440.99,191.2 446.48,190.1 455.64,186.7 473.94,185 492.25,183.3 510.55,183.9 528.86,182.9" fill="none" stroke="#000000" stroke-width="0.95" stroke-linejoin="round"/>
<circle cx="440.99" cy="191.2" r="2.35" fill="#00008B"/>
<circle cx="446.48" cy="190.1" r="2.35" fill="#00008B"/>
<circle cx="455.64" cy="186.7" r="2.35" fill="#00008B"/>
<circle cx="473.94" cy="185" r="2.35" fill="#00008B"/>
<circle cx="492.25" cy="183.3" r="2.35" fill="#00008B"/>
<circle cx="510.55" cy="183.9" r="2.35" fill="#00008B"/>
<circle cx="528.86" cy="182.9" r="2.35" fill="#00008B"/>
<rect x="436.6" y="143.55" width="96.65" height="51.1" fill="none" stroke="#858585" stroke-width="1.0"/>
<rect x="30.8" y="17.9" width="96.65" height="13.15" fill="#D9D9D9" stroke="#858585" stroke-width="1.0"/>
<text x="79.12" y="26.87" font-size="6.85" fill="#1A1A1A" stroke="#1A1A1A" stroke-width="0.03" text-anchor="middle">min.node.size: 1</text>
<rect x="132.4" y="17.9" width="96.65" height="13.15" fill="#D9D9D9" stroke="#858585" stroke-width="1.0"/>
<text x="180.73" y="26.87" font-size="6.85" fill="#1A1A1A" stroke="#1A1A1A" stroke-width="0.03" text-anchor="middle">min.node.size: 2</text>
<rect x="233.6" y="17.9" width="96.65" height="13.15" fill="#D9D9D9" stroke="#858585" stroke-width="1.0"/>
<text x="281.93" y="26.87" font-size="6.85" fill="#1A1A1A" stroke="#1A1A1A" stroke-width="0.03" text-anchor="middle">min.node.size: 5</text>
<rect x="335" y="17.9" width="96.65" height="13.15" fill="#D9D9D9" stroke="#858585" stroke-width="1.0"/>
<text x="383.32" y="26.87" font-size="6.85" fill="#1A1A1A" stroke="#1A1A1A" stroke-width="0.03" text-anchor="middle">min.node.size: 10</text>
<rect x="436.6" y="17.9" width="96.65" height="13.15" fill="#D9D9D9" stroke="#858585" stroke-width="1.0"/>
<text x="484.93" y="26.87" font-size="6.85" fill="#1A1A1A" stroke="#1A1A1A" stroke-width="0.03" text-anchor="middle">min.node.size: 20</text>
<rect x="533.25" y="31.05" width="13.1" height="51.1" fill="#D9D9D9" stroke="#858585" stroke-width="1.0"/>
<text x="537.4" y="56.6" font-size="6.85" fill="#1A1A1A" stroke="#1A1A1A" stroke-width="0.03" text-anchor="middle" transform="rotate(90 537.4 56.6)">variance</text>
<rect x="533.25" y="87.3" width="13.1" height="51.1" fill="#D9D9D9" stroke="#858585" stroke-width="1.0"/>
<text x="537.4" y="112.85" font-size="6.85" fill="#1A1A1A" stroke="#1A1A1A" stroke-width="0.03" text-anchor="middle" transform="rotate(90 537.4 112.85)">extratrees</text>
<rect x="533.25" y="143.55" width="13.1" height="51.1" fill="#D9D9D9" stroke="#858585" stroke-width="1.0"/>
<text x="537.4" y="169.1" font-size="6.85" fill="#1A1A1A" stroke="#1A1A1A" stroke-width="0.03" text-anchor="middle" transform="rotate(90 537.4 169.1)">maxstat</text>
<line x1="28.4" y1="72.35" x2="30.8" y2="72.35" stroke="#333333" stroke-width="0.9"/>
<text x="27.2" y="75.07" font-size="6.9" fill="#4D4D4D" stroke="#4D4D4D" stroke-width="0.03" text-anchor="end">13.2</text>
<line x1="28.4" y1="59.15" x2="30.8" y2="59.15" stroke="#333333" stroke-width="0.9"/>
<text x="27.2" y="61.86" font-size="6.9" fill="#4D4D4D" stroke="#4D4D4D" stroke-width="0.03" text-anchor="end">13.5</text>
<line x1="28.4" y1="45.95" x2="30.8" y2="45.95" stroke="#333333" stroke-width="0.9"/>
<text x="27.2" y="48.66" font-size="6.9" fill="#4D4D4D" stroke="#4D4D4D" stroke-width="0.03" text-anchor="end">13.8</text>
<line x1="28.4" y1="32.75" x2="30.8" y2="32.75" stroke="#333333" stroke-width="0.9"/>
<text x="27.2" y="35.46" font-size="6.9" fill="#4D4D4D" stroke="#4D4D4D" stroke-width="0.03" text-anchor="end">14.1</text>
<line x1="28.4" y1="128.6" x2="30.8" y2="128.6" stroke="#333333" stroke-width="0.9"/>
<text x="27.2" y="131.32" font-size="6.9" fill="#4D4D4D" stroke="#4D4D4D" stroke-width="0.03" text-anchor="end">13.2</text>
<line x1="28.4" y1="115.4" x2="30.8" y2="115.4" stroke="#333333" stroke-width="0.9"/>
<text x="27.2" y="118.11" font-size="6.9" fill="#4D4D4D" stroke="#4D4D4D" stroke-width="0.03" text-anchor="end">13.5</text>
<line x1="28.4" y1="102.2" x2="30.8" y2="102.2" stroke="#333333" stroke-width="0.9"/>
<text x="27.2" y="104.91" font-size="6.9" fill="#4D4D4D" stroke="#4D4D4D" stroke-width="0.03" text-anchor="end">13.8</text>
<line x1="28.4" y1="89" x2="30.8" y2="89" stroke="#333333" stroke-width="0.9"/>
<text x="27.2" y="91.72" font-size="6.9" fill="#4D4D4D" stroke="#4D4D4D" stroke-width="0.03" text-anchor="end">14.1</text>
<line x1="28.4" y1="184.85" x2="30.8" y2="184.85" stroke="#333333" stroke-width="0.9"/>
<text x="27.2" y="187.57" font-size="6.9" fill="#4D4D4D" stroke="#4D4D4D" stroke-width="0.03" text-anchor="end">13.2</text>
<line x1="28.4" y1="171.65" x2="30.8" y2="171.65" stroke="#333333" stroke-width="0.9"/>
<text x="27.2" y="174.36" font-size="6.9" fill="#4D4D4D" stroke="#4D4D4D" stroke-width="0.03" text-anchor="end">13.5</text>
<line x1="28.4" y1="158.45" x2="30.8" y2="158.45" stroke="#333333" stroke-width="0.9"/>
<text x="27.2" y="161.16" font-size="6.9" fill="#4D4D4D" stroke="#4D4D4D" stroke-width="0.03" text-anchor="end">13.8</text>
<line x1="28.4" y1="145.25" x2="30.8" y2="145.25" stroke="#333333" stroke-width="0.9"/>
<text x="27.2" y="147.97" font-size="6.9" fill="#4D4D4D" stroke="#4D4D4D" stroke-width="0.03" text-anchor="end">14.1</text>
<line x1="31.53" y1="194.65" x2="31.53" y2="197.15" stroke="#333333" stroke-width="0.9"/>
<text x="31.53" y="203.95" font-size="6.9" fill="#4D4D4D" stroke="#4D4D4D" stroke-width="0.03" text-anchor="middle">0</text>
<line x1="49.84" y1="194.65" x2="49.84" y2="197.15" stroke="#333333" stroke-width="0.9"/>
<text x="49.84" y="203.95" font-size="6.9" fill="#4D4D4D" stroke="#4D4D4D" stroke-width="0.03" text-anchor="middle">10</text>
<line x1="68.14" y1="194.65" x2="68.14" y2="197.15" stroke="#333333" stroke-width="0.9"/>
<text x="68.14" y="203.95" font-size="6.9" fill="#4D4D4D" stroke="#4D4D4D" stroke-width="0.03" text-anchor="middle">20</text>
<line x1="86.45" y1="194.65" x2="86.45" y2="197.15" stroke="#333333" stroke-width="0.9"/>
<text x="86.45" y="203.95" font-size="6.9" fill="#4D4D4D" stroke="#4D4D4D" stroke-width="0.03" text-anchor="middle">30</text>
<line x1="104.75" y1="194.65" x2="104.75" y2="197.15" stroke="#333333" stroke-width="0.9"/>
<text x="104.75" y="203.95" font-size="6.9" fill="#4D4D4D" stroke="#4D4D4D" stroke-width="0.03" text-anchor="middle">40</text>
<line x1="123.06" y1="194.65" x2="123.06" y2="197.15" stroke="#333333" stroke-width="0.9"/>
<text x="123.06" y="203.95" font-size="6.9" fill="#4D4D4D" stroke="#4D4D4D" stroke-width="0.03" text-anchor="middle">50</text>
<line x1="133.13" y1="194.65" x2="133.13" y2="197.15" stroke="#333333" stroke-width="0.9"/>
<text x="133.13" y="203.95" font-size="6.9" fill="#4D4D4D" stroke="#4D4D4D" stroke-width="0.03" text-anchor="middle">0</text>
<line x1="151.44" y1="194.65" x2="151.44" y2="197.15" stroke="#333333" stroke-width="0.9"/>
<text x="151.44" y="203.95" font-size="6.9" fill="#4D4D4D" stroke="#4D4D4D" stroke-width="0.03" text-anchor="middle">10</text>
<line x1="169.74" y1="194.65" x2="169.74" y2="197.15" stroke="#333333" stroke-width="0.9"/>
<text x="169.74" y="203.95" font-size="6.9" fill="#4D4D4D" stroke="#4D4D4D" stroke-width="0.03" text-anchor="middle">20</text>
<line x1="188.05" y1="194.65" x2="188.05" y2="197.15" stroke="#333333" stroke-width="0.9"/>
<text x="188.05" y="203.95" font-size="6.9" fill="#4D4D4D" stroke="#4D4D4D" stroke-width="0.03" text-anchor="middle">30</text>
<line x1="206.35" y1="194.65" x2="206.35" y2="197.15" stroke="#333333" stroke-width="0.9"/>
<text x="206.35" y="203.95" font-size="6.9" fill="#4D4D4D" stroke="#4D4D4D" stroke-width="0.03" text-anchor="middle">40</text>
<line x1="224.66" y1="194.65" x2="224.66" y2="197.15" stroke="#333333" stroke-width="0.9"/>
<text x="224.66" y="203.95" font-size="6.9" fill="#4D4D4D" stroke="#4D4D4D" stroke-width="0.03" text-anchor="middle">50</text>
<line x1="234.33" y1="194.65" x2="234.33" y2="197.15" stroke="#333333" stroke-width="0.9"/>
<text x="234.33" y="203.95" font-size="6.9" fill="#4D4D4D" stroke="#4D4D4D" stroke-width="0.03" text-anchor="middle">0</text>
<line x1="252.64" y1="194.65" x2="252.64" y2="197.15" stroke="#333333" stroke-width="0.9"/>
<text x="252.64" y="203.95" font-size="6.9" fill="#4D4D4D" stroke="#4D4D4D" stroke-width="0.03" text-anchor="middle">10</text>
<line x1="270.94" y1="194.65" x2="270.94" y2="197.15" stroke="#333333" stroke-width="0.9"/>
<text x="270.94" y="203.95" font-size="6.9" fill="#4D4D4D" stroke="#4D4D4D" stroke-width="0.03" text-anchor="middle">20</text>
<line x1="289.25" y1="194.65" x2="289.25" y2="197.15" stroke="#333333" stroke-width="0.9"/>
<text x="289.25" y="203.95" font-size="6.9" fill="#4D4D4D" stroke="#4D4D4D" stroke-width="0.03" text-anchor="middle">30</text>
<line x1="307.55" y1="194.65" x2="307.55" y2="197.15" stroke="#333333" stroke-width="0.9"/>
<text x="307.55" y="203.95" font-size="6.9" fill="#4D4D4D" stroke="#4D4D4D" stroke-width="0.03" text-anchor="middle">40</text>
<line x1="325.86" y1="194.65" x2="325.86" y2="197.15" stroke="#333333" stroke-width="0.9"/>
<text x="325.86" y="203.95" font-size="6.9" fill="#4D4D4D" stroke="#4D4D4D" stroke-width="0.03" text-anchor="middle">50</text>
<line x1="335.73" y1="194.65" x2="335.73" y2="197.15" stroke="#333333" stroke-width="0.9"/>
<text x="335.73" y="203.95" font-size="6.9" fill="#4D4D4D" stroke="#4D4D4D" stroke-width="0.03" text-anchor="middle">0</text>
<line x1="354.04" y1="194.65" x2="354.04" y2="197.15" stroke="#333333" stroke-width="0.9"/>
<text x="354.04" y="203.95" font-size="6.9" fill="#4D4D4D" stroke="#4D4D4D" stroke-width="0.03" text-anchor="middle">10</text>
<line x1="372.34" y1="194.65" x2="372.34" y2="197.15" stroke="#333333" stroke-width="0.9"/>
<text x="372.34" y="203.95" font-size="6.9" fill="#4D4D4D" stroke="#4D4D4D" stroke-width="0.03" text-anchor="middle">20</text>
<line x1="390.65" y1="194.65" x2="390.65" y2="197.15" stroke="#333333" stroke-width="0.9"/>
<text x="390.65" y="203.95" font-size="6.9" fill="#4D4D4D" stroke="#4D4D4D" stroke-width="0.03" text-anchor="middle">30</text>
<line x1="408.95" y1="194.65" x2="408.95" y2="197.15" stroke="#333333" stroke-width="0.9"/>
<text x="408.95" y="203.95" font-size="6.9" fill="#4D4D4D" stroke="#4D4D4D" stroke-width="0.03" text-anchor="middle">40</text>
<line x1="427.26" y1="194.65" x2="427.26" y2="197.15" stroke="#333333" stroke-width="0.9"/>
<text x="427.26" y="203.95" font-size="6.9" fill="#4D4D4D" stroke="#4D4D4D" stroke-width="0.03" text-anchor="middle">50</text>
<line x1="437.33" y1="194.65" x2="437.33" y2="197.15" stroke="#333333" stroke-width="0.9"/>
<text x="437.33" y="203.95" font-size="6.9" fill="#4D4D4D" stroke="#4D4D4D" stroke-width="0.03" text-anchor="middle">0</text>
<line x1="455.64" y1="194.65" x2="455.64" y2="197.15" stroke="#333333" stroke-width="0.9"/>
<text x="455.64" y="203.95" font-size="6.9" fill="#4D4D4D" stroke="#4D4D4D" stroke-width="0.03" text-anchor="middle">10</text>
<line x1="473.94" y1="194.65" x2="473.94" y2="197.15" stroke="#333333" stroke-width="0.9"/>
<text x="473.94" y="203.95" font-size="6.9" fill="#4D4D4D" stroke="#4D4D4D" stroke-width="0.03" text-anchor="middle">20</text>
<line x1="492.25" y1="194.65" x2="492.25" y2="197.15" stroke="#333333" stroke-width="0.9"/>
<text x="492.25" y="203.95" font-size="6.9" fill="#4D4D4D" stroke="#4D4D4D" stroke-width="0.03" text-anchor="middle">30</text>
<line x1="510.55" y1="194.65" x2="510.55" y2="197.15" stroke="#333333" stroke-width="0.9"/>
<text x="510.55" y="203.95" font-size="6.9" fill="#4D4D4D" stroke="#4D4D4D" stroke-width="0.03" text-anchor="middle">40</text>
<line x1="528.86" y1="194.65" x2="528.86" y2="197.15" stroke="#333333" stroke-width="0.9"/>
<text x="528.86" y="203.95" font-size="6.9" fill="#4D4D4D" stroke="#4D4D4D" stroke-width="0.03" text-anchor="middle">50</text>
<text x="30.6" y="11.9" font-size="10.4" fill="#000000" stroke="#000000" stroke-width="0.15" text-anchor="start">RF</text>
<text x="282.03" y="213.5" font-size="8.2" fill="#000000" stroke="#000000" stroke-width="0.12" text-anchor="middle">mtry</text>
<text x="9.8" y="113.35" font-size="8.2" fill="#000000" stroke="#000000" stroke-width="0.12" text-anchor="middle" transform="rotate(-90 9.8 113.35)">RMSE</text>
<rect x="30.65" y="251.1" width="53" height="51.15" fill="#FFFFFF" stroke="none" stroke-width="0"/>
<line x1="34.4" y1="251.1" x2="34.4" y2="302.25" stroke="#EBEBEB" stroke-width="0.4"/>
<line x1="47.78" y1="251.1" x2="47.78" y2="302.25" stroke="#EBEBEB" stroke-width="0.4"/>
<line x1="61.17" y1="251.1" x2="61.17" y2="302.25" stroke="#EBEBEB" stroke-width="0.4"/>
<line x1="74.55" y1="251.1" x2="74.55" y2="302.25" stroke="#EBEBEB" stroke-width="0.4"/>
<line x1="30.65" y1="299" x2="83.65" y2="299" stroke="#EBEBEB" stroke-width="0.4"/>
<line x1="30.65" y1="284.81" x2="83.65" y2="284.81" stroke="#EBEBEB" stroke-width="0.4"/>
<line x1="30.65" y1="270.62" x2="83.65" y2="270.62" stroke="#EBEBEB" stroke-width="0.4"/>
<line x1="30.65" y1="256.44" x2="83.65" y2="256.44" stroke="#EBEBEB" stroke-width="0.4"/>
<line x1="41.09" y1="251.1" x2="41.09" y2="302.25" stroke="#E4E4E4" stroke-width="0.75"/>
<line x1="54.47" y1="251.1" x2="54.47" y2="302.25" stroke="#E4E4E4" stroke-width="0.75"/>
<line x1="67.86" y1="251.1" x2="67.86" y2="302.25" stroke="#E4E4E4" stroke-width="0.75"/>
<line x1="81.24" y1="251.1" x2="81.24" y2="302.25" stroke="#E4E4E4" stroke-width="0.75"/>
<line x1="30.65" y1="291.9" x2="83.65" y2="291.9" stroke="#E4E4E4" stroke-width="0.75"/>
<line x1="30.65" y1="277.72" x2="83.65" y2="277.72" stroke="#E4E4E4" stroke-width="0.75"/>
<line x1="30.65" y1="263.53" x2="83.65" y2="263.53" stroke="#E4E4E4" stroke-width="0.75"/>
<polyline points="33.06,253.2 41.09,254.5 54.47,256.3 81.24,259.7" fill="none" stroke="#000000" stroke-width="0.95" stroke-linejoin="round"/>
<circle cx="33.06" cy="253.2" r="2.35" fill="#00008B"/>
<circle cx="41.09" cy="254.5" r="2.35" fill="#00008B"/>
<circle cx="54.47" cy="256.3" r="2.35" fill="#00008B"/>
<circle cx="81.24" cy="259.7" r="2.35" fill="#00008B"/>
<rect x="30.65" y="251.1" width="53" height="51.15" fill="none" stroke="#858585" stroke-width="1.0"/>
<rect x="88.55" y="251.1" width="53" height="51.15" fill="#FFFFFF" stroke="none" stroke-width="0"/>
<line x1="92.3" y1="251.1" x2="92.3" y2="302.25" stroke="#EBEBEB" stroke-width="0.4"/>
<line x1="105.68" y1="251.1" x2="105.68" y2="302.25" stroke="#EBEBEB" stroke-width="0.4"/>
<line x1="119.07" y1="251.1" x2="119.07" y2="302.25" stroke="#EBEBEB" stroke-width="0.4"/>
<line x1="132.45" y1="251.1" x2="132.45" y2="302.25" stroke="#EBEBEB" stroke-width="0.4"/>
<line x1="88.55" y1="299" x2="141.55" y2="299" stroke="#EBEBEB" stroke-width="0.4"/>
<line x1="88.55" y1="284.81" x2="141.55" y2="284.81" stroke="#EBEBEB" stroke-width="0.4"/>
<line x1="88.55" y1="270.62" x2="141.55" y2="270.62" stroke="#EBEBEB" stroke-width="0.4"/>
<line x1="88.55" y1="256.44" x2="141.55" y2="256.44" stroke="#EBEBEB" stroke-width="0.4"/>
<line x1="98.99" y1="251.1" x2="98.99" y2="302.25" stroke="#E4E4E4" stroke-width="0.75"/>
<line x1="112.37" y1="251.1" x2="112.37" y2="302.25" stroke="#E4E4E4" stroke-width="0.75"/>
<line x1="125.76" y1="251.1" x2="125.76" y2="302.25" stroke="#E4E4E4" stroke-width="0.75"/>
<line x1="139.14" y1="251.1" x2="139.14" y2="302.25" stroke="#E4E4E4" stroke-width="0.75"/>
<line x1="88.55" y1="291.9" x2="141.55" y2="291.9" stroke="#E4E4E4" stroke-width="0.75"/>
<line x1="88.55" y1="277.72" x2="141.55" y2="277.72" stroke="#E4E4E4" stroke-width="0.75"/>
<line x1="88.55" y1="263.53" x2="141.55" y2="263.53" stroke="#E4E4E4" stroke-width="0.75"/>
<polyline points="90.96,253.1 98.99,254.3 112.37,256.1 139.14,259.3" fill="none" stroke="#000000" stroke-width="0.95" stroke-linejoin="round"/>
<circle cx="90.96" cy="253.1" r="2.35" fill="#00008B"/>
<circle cx="98.99" cy="254.3" r="2.35" fill="#00008B"/>
<circle cx="112.37" cy="256.1" r="2.35" fill="#00008B"/>
<circle cx="139.14" cy="259.3" r="2.35" fill="#00008B"/>
<rect x="88.55" y="251.1" width="53" height="51.15" fill="none" stroke="#858585" stroke-width="1.0"/>
<rect x="146.45" y="251.1" width="53" height="51.15" fill="#FFFFFF" stroke="none" stroke-width="0"/>
<line x1="150.2" y1="251.1" x2="150.2" y2="302.25" stroke="#EBEBEB" stroke-width="0.4"/>
<line x1="163.58" y1="251.1" x2="163.58" y2="302.25" stroke="#EBEBEB" stroke-width="0.4"/>
<line x1="176.97" y1="251.1" x2="176.97" y2="302.25" stroke="#EBEBEB" stroke-width="0.4"/>
<line x1="190.35" y1="251.1" x2="190.35" y2="302.25" stroke="#EBEBEB" stroke-width="0.4"/>
<line x1="146.45" y1="299" x2="199.45" y2="299" stroke="#EBEBEB" stroke-width="0.4"/>
<line x1="146.45" y1="284.81" x2="199.45" y2="284.81" stroke="#EBEBEB" stroke-width="0.4"/>
<line x1="146.45" y1="270.62" x2="199.45" y2="270.62" stroke="#EBEBEB" stroke-width="0.4"/>
<line x1="146.45" y1="256.44" x2="199.45" y2="256.44" stroke="#EBEBEB" stroke-width="0.4"/>
<line x1="156.89" y1="251.1" x2="156.89" y2="302.25" stroke="#E4E4E4" stroke-width="0.75"/>
<line x1="170.27" y1="251.1" x2="170.27" y2="302.25" stroke="#E4E4E4" stroke-width="0.75"/>
<line x1="183.66" y1="251.1" x2="183.66" y2="302.25" stroke="#E4E4E4" stroke-width="0.75"/>
<line x1="197.04" y1="251.1" x2="197.04" y2="302.25" stroke="#E4E4E4" stroke-width="0.75"/>
<line x1="146.45" y1="291.9" x2="199.45" y2="291.9" stroke="#E4E4E4" stroke-width="0.75"/>
<line x1="146.45" y1="277.72" x2="199.45" y2="277.72" stroke="#E4E4E4" stroke-width="0.75"/>
<line x1="146.45" y1="263.53" x2="199.45" y2="263.53" stroke="#E4E4E4" stroke-width="0.75"/>
<polyline points="148.86,253 156.89,254.2 170.27,255.7 197.04,258.8" fill="none" stroke="#000000" stroke-width="0.95" stroke-linejoin="round"/>
<circle cx="148.86" cy="253" r="2.35" fill="#00008B"/>
<circle cx="156.89" cy="254.2" r="2.35" fill="#00008B"/>
<circle cx="170.27" cy="255.7" r="2.35" fill="#00008B"/>
<circle cx="197.04" cy="258.8" r="2.35" fill="#00008B"/>
<rect x="146.45" y="251.1" width="53" height="51.15" fill="none" stroke="#858585" stroke-width="1.0"/>
<rect x="204.35" y="251.1" width="53" height="51.15" fill="#FFFFFF" stroke="none" stroke-width="0"/>
<line x1="208.1" y1="251.1" x2="208.1" y2="302.25" stroke="#EBEBEB" stroke-width="0.4"/>
<line x1="221.48" y1="251.1" x2="221.48" y2="302.25" stroke="#EBEBEB" stroke-width="0.4"/>
<line x1="234.87" y1="251.1" x2="234.87" y2="302.25" stroke="#EBEBEB" stroke-width="0.4"/>
<line x1="248.25" y1="251.1" x2="248.25" y2="302.25" stroke="#EBEBEB" stroke-width="0.4"/>
<line x1="204.35" y1="299" x2="257.35" y2="299" stroke="#EBEBEB" stroke-width="0.4"/>
<line x1="204.35" y1="284.81" x2="257.35" y2="284.81" stroke="#EBEBEB" stroke-width="0.4"/>
<line x1="204.35" y1="270.62" x2="257.35" y2="270.62" stroke="#EBEBEB" stroke-width="0.4"/>
<line x1="204.35" y1="256.44" x2="257.35" y2="256.44" stroke="#EBEBEB" stroke-width="0.4"/>
<line x1="214.79" y1="251.1" x2="214.79" y2="302.25" stroke="#E4E4E4" stroke-width="0.75"/>
<line x1="228.17" y1="251.1" x2="228.17" y2="302.25" stroke="#E4E4E4" stroke-width="0.75"/>
<line x1="241.56" y1="251.1" x2="241.56" y2="302.25" stroke="#E4E4E4" stroke-width="0.75"/>
<line x1="254.94" y1="251.1" x2="254.94" y2="302.25" stroke="#E4E4E4" stroke-width="0.75"/>
<line x1="204.35" y1="291.9" x2="257.35" y2="291.9" stroke="#E4E4E4" stroke-width="0.75"/>
<line x1="204.35" y1="277.72" x2="257.35" y2="277.72" stroke="#E4E4E4" stroke-width="0.75"/>
<line x1="204.35" y1="263.53" x2="257.35" y2="263.53" stroke="#E4E4E4" stroke-width="0.75"/>
<polyline points="206.76,253.2 214.79,254.3 228.17,255.6 254.94,258.7" fill="none" stroke="#000000" stroke-width="0.95" stroke-linejoin="round"/>
<circle cx="206.76" cy="253.2" r="2.35" fill="#00008B"/>
<circle cx="214.79" cy="254.3" r="2.35" fill="#00008B"/>
<circle cx="228.17" cy="255.6" r="2.35" fill="#00008B"/>
<circle cx="254.94" cy="258.7" r="2.35" fill="#00008B"/>
<rect x="204.35" y="251.1" width="53" height="51.15" fill="none" stroke="#858585" stroke-width="1.0"/>
<rect x="30.65" y="307.3" width="53" height="51.15" fill="#FFFFFF" stroke="none" stroke-width="0"/>
<line x1="34.4" y1="307.3" x2="34.4" y2="358.45" stroke="#EBEBEB" stroke-width="0.4"/>
<line x1="47.78" y1="307.3" x2="47.78" y2="358.45" stroke="#EBEBEB" stroke-width="0.4"/>
<line x1="61.17" y1="307.3" x2="61.17" y2="358.45" stroke="#EBEBEB" stroke-width="0.4"/>
<line x1="74.55" y1="307.3" x2="74.55" y2="358.45" stroke="#EBEBEB" stroke-width="0.4"/>
<line x1="30.65" y1="355.2" x2="83.65" y2="355.2" stroke="#EBEBEB" stroke-width="0.4"/>
<line x1="30.65" y1="341.01" x2="83.65" y2="341.01" stroke="#EBEBEB" stroke-width="0.4"/>
<line x1="30.65" y1="326.82" x2="83.65" y2="326.82" stroke="#EBEBEB" stroke-width="0.4"/>
<line x1="30.65" y1="312.64" x2="83.65" y2="312.64" stroke="#EBEBEB" stroke-width="0.4"/>
<line x1="41.09" y1="307.3" x2="41.09" y2="358.45" stroke="#E4E4E4" stroke-width="0.75"/>
<line x1="54.47" y1="307.3" x2="54.47" y2="358.45" stroke="#E4E4E4" stroke-width="0.75"/>
<line x1="67.86" y1="307.3" x2="67.86" y2="358.45" stroke="#E4E4E4" stroke-width="0.75"/>
<line x1="81.24" y1="307.3" x2="81.24" y2="358.45" stroke="#E4E4E4" stroke-width="0.75"/>
<line x1="30.65" y1="348.1" x2="83.65" y2="348.1" stroke="#E4E4E4" stroke-width="0.75"/>
<line x1="30.65" y1="333.92" x2="83.65" y2="333.92" stroke="#E4E4E4" stroke-width="0.75"/>
<line x1="30.65" y1="319.73" x2="83.65" y2="319.73" stroke="#E4E4E4" stroke-width="0.75"/>
<polyline points="33.06,315.7 41.09,324.5 54.47,335.6 81.24,348" fill="none" stroke="#000000" stroke-width="0.95" stroke-linejoin="round"/>
<circle cx="33.06" cy="315.7" r="2.35" fill="#00008B"/>
<circle cx="41.09" cy="324.5" r="2.35" fill="#00008B"/>
<circle cx="54.47" cy="335.6" r="2.35" fill="#00008B"/>
<circle cx="81.24" cy="348" r="2.35" fill="#00008B"/>
<rect x="30.65" y="307.3" width="53" height="51.15" fill="none" stroke="#858585" stroke-width="1.0"/>
<rect x="88.55" y="307.3" width="53" height="51.15" fill="#FFFFFF" stroke="none" stroke-width="0"/>
<line x1="92.3" y1="307.3" x2="92.3" y2="358.45" stroke="#EBEBEB" stroke-width="0.4"/>
<line x1="105.68" y1="307.3" x2="105.68" y2="358.45" stroke="#EBEBEB" stroke-width="0.4"/>
<line x1="119.07" y1="307.3" x2="119.07" y2="358.45" stroke="#EBEBEB" stroke-width="0.4"/>
<line x1="132.45" y1="307.3" x2="132.45" y2="358.45" stroke="#EBEBEB" stroke-width="0.4"/>
<line x1="88.55" y1="355.2" x2="141.55" y2="355.2" stroke="#EBEBEB" stroke-width="0.4"/>
<line x1="88.55" y1="341.01" x2="141.55" y2="341.01" stroke="#EBEBEB" stroke-width="0.4"/>
<line x1="88.55" y1="326.82" x2="141.55" y2="326.82" stroke="#EBEBEB" stroke-width="0.4"/>
<line x1="88.55" y1="312.64" x2="141.55" y2="312.64" stroke="#EBEBEB" stroke-width="0.4"/>
<line x1="98.99" y1="307.3" x2="98.99" y2="358.45" stroke="#E4E4E4" stroke-width="0.75"/>
<line x1="112.37" y1="307.3" x2="112.37" y2="358.45" stroke="#E4E4E4" stroke-width="0.75"/>
<line x1="125.76" y1="307.3" x2="125.76" y2="358.45" stroke="#E4E4E4" stroke-width="0.75"/>
<line x1="139.14" y1="307.3" x2="139.14" y2="358.45" stroke="#E4E4E4" stroke-width="0.75"/>
<line x1="88.55" y1="348.1" x2="141.55" y2="348.1" stroke="#E4E4E4" stroke-width="0.75"/>
<line x1="88.55" y1="333.92" x2="141.55" y2="333.92" stroke="#E4E4E4" stroke-width="0.75"/>
<line x1="88.55" y1="319.73" x2="141.55" y2="319.73" stroke="#E4E4E4" stroke-width="0.75"/>
<polyline points="90.96,315.4 98.99,324 112.37,334.7 139.14,347.9 139.14,346.4" fill="none" stroke="#000000" stroke-width="0.95" stroke-linejoin="round"/>
<circle cx="90.96" cy="315.4" r="2.35" fill="#00008B"/>
<circle cx="98.99" cy="324" r="2.35" fill="#00008B"/>
<circle cx="112.37" cy="334.7" r="2.35" fill="#00008B"/>
<circle cx="139.14" cy="347.9" r="2.35" fill="#00008B"/>
<circle cx="139.14" cy="346.4" r="2.35" fill="#00008B"/>
<rect x="88.55" y="307.3" width="53" height="51.15" fill="none" stroke="#858585" stroke-width="1.0"/>
<rect x="146.45" y="307.3" width="53" height="51.15" fill="#FFFFFF" stroke="none" stroke-width="0"/>
<line x1="150.2" y1="307.3" x2="150.2" y2="358.45" stroke="#EBEBEB" stroke-width="0.4"/>
<line x1="163.58" y1="307.3" x2="163.58" y2="358.45" stroke="#EBEBEB" stroke-width="0.4"/>
<line x1="176.97" y1="307.3" x2="176.97" y2="358.45" stroke="#EBEBEB" stroke-width="0.4"/>
<line x1="190.35" y1="307.3" x2="190.35" y2="358.45" stroke="#EBEBEB" stroke-width="0.4"/>
<line x1="146.45" y1="355.2" x2="199.45" y2="355.2" stroke="#EBEBEB" stroke-width="0.4"/>
<line x1="146.45" y1="341.01" x2="199.45" y2="341.01" stroke="#EBEBEB" stroke-width="0.4"/>
<line x1="146.45" y1="326.82" x2="199.45" y2="326.82" stroke="#EBEBEB" stroke-width="0.4"/>
<line x1="146.45" y1="312.64" x2="199.45" y2="312.64" stroke="#EBEBEB" stroke-width="0.4"/>
<line x1="156.89" y1="307.3" x2="156.89" y2="358.45" stroke="#E4E4E4" stroke-width="0.75"/>
<line x1="170.27" y1="307.3" x2="170.27" y2="358.45" stroke="#E4E4E4" stroke-width="0.75"/>
<line x1="183.66" y1="307.3" x2="183.66" y2="358.45" stroke="#E4E4E4" stroke-width="0.75"/>
<line x1="197.04" y1="307.3" x2="197.04" y2="358.45" stroke="#E4E4E4" stroke-width="0.75"/>
<line x1="146.45" y1="348.1" x2="199.45" y2="348.1" stroke="#E4E4E4" stroke-width="0.75"/>
<line x1="146.45" y1="333.92" x2="199.45" y2="333.92" stroke="#E4E4E4" stroke-width="0.75"/>
<line x1="146.45" y1="319.73" x2="199.45" y2="319.73" stroke="#E4E4E4" stroke-width="0.75"/>
<polyline points="148.86,314.8 156.89,322.6 170.27,333.5 170.27,332 197.04,345.8 197.04,344.1 197.04,342.4" fill="none" stroke="#000000" stroke-width="0.95" stroke-linejoin="round"/>
<circle cx="148.86" cy="314.8" r="2.35" fill="#00008B"/>
<circle cx="156.89" cy="322.6" r="2.35" fill="#00008B"/>
<circle cx="170.27" cy="333.5" r="2.35" fill="#00008B"/>
<circle cx="170.27" cy="332" r="2.35" fill="#00008B"/>
<circle cx="197.04" cy="345.8" r="2.35" fill="#00008B"/>
<circle cx="197.04" cy="344.1" r="2.35" fill="#00008B"/>
<circle cx="197.04" cy="342.4" r="2.35" fill="#00008B"/>
<rect x="146.45" y="307.3" width="53" height="51.15" fill="none" stroke="#858585" stroke-width="1.0"/>
<rect x="204.35" y="307.3" width="53" height="51.15" fill="#FFFFFF" stroke="none" stroke-width="0"/>
<line x1="208.1" y1="307.3" x2="208.1" y2="358.45" stroke="#EBEBEB" stroke-width="0.4"/>
<line x1="221.48" y1="307.3" x2="221.48" y2="358.45" stroke="#EBEBEB" stroke-width="0.4"/>
<line x1="234.87" y1="307.3" x2="234.87" y2="358.45" stroke="#EBEBEB" stroke-width="0.4"/>
<line x1="248.25" y1="307.3" x2="248.25" y2="358.45" stroke="#EBEBEB" stroke-width="0.4"/>
<line x1="204.35" y1="355.2" x2="257.35" y2="355.2" stroke="#EBEBEB" stroke-width="0.4"/>
<line x1="204.35" y1="341.01" x2="257.35" y2="341.01" stroke="#EBEBEB" stroke-width="0.4"/>
<line x1="204.35" y1="326.82" x2="257.35" y2="326.82" stroke="#EBEBEB" stroke-width="0.4"/>
<line x1="204.35" y1="312.64" x2="257.35" y2="312.64" stroke="#EBEBEB" stroke-width="0.4"/>
<line x1="214.79" y1="307.3" x2="214.79" y2="358.45" stroke="#E4E4E4" stroke-width="0.75"/>
<line x1="228.17" y1="307.3" x2="228.17" y2="358.45" stroke="#E4E4E4" stroke-width="0.75"/>
<line x1="241.56" y1="307.3" x2="241.56" y2="358.45" stroke="#E4E4E4" stroke-width="0.75"/>
<line x1="254.94" y1="307.3" x2="254.94" y2="358.45" stroke="#E4E4E4" stroke-width="0.75"/>
<line x1="204.35" y1="348.1" x2="257.35" y2="348.1" stroke="#E4E4E4" stroke-width="0.75"/>
<line x1="204.35" y1="333.92" x2="257.35" y2="333.92" stroke="#E4E4E4" stroke-width="0.75"/>
<line x1="204.35" y1="319.73" x2="257.35" y2="319.73" stroke="#E4E4E4" stroke-width="0.75"/>
<polyline points="206.76,314.6 214.79,322.2 228.17,332.3 254.94,344.8 254.94,343.4 254.94,341.9" fill="none" stroke="#000000" stroke-width="0.95" stroke-linejoin="round"/>
<circle cx="206.76" cy="314.6" r="2.35" fill="#00008B"/>
<circle cx="214.79" cy="322.2" r="2.35" fill="#00008B"/>
<circle cx="228.17" cy="332.3" r="2.35" fill="#00008B"/>
<circle cx="254.94" cy="344.8" r="2.35" fill="#00008B"/>
<circle cx="254.94" cy="343.4" r="2.35" fill="#00008B"/>
<circle cx="254.94" cy="341.9" r="2.35" fill="#00008B"/>
<rect x="204.35" y="307.3" width="53" height="51.15" fill="none" stroke="#858585" stroke-width="1.0"/>
<rect x="30.65" y="363.5" width="53" height="51.15" fill="#FFFFFF" stroke="none" stroke-width="0"/>
<line x1="34.4" y1="363.5" x2="34.4" y2="414.65" stroke="#EBEBEB" stroke-width="0.4"/>
<line x1="47.78" y1="363.5" x2="47.78" y2="414.65" stroke="#EBEBEB" stroke-width="0.4"/>
<line x1="61.17" y1="363.5" x2="61.17" y2="414.65" stroke="#EBEBEB" stroke-width="0.4"/>
<line x1="74.55" y1="363.5" x2="74.55" y2="414.65" stroke="#EBEBEB" stroke-width="0.4"/>
<line x1="30.65" y1="411.4" x2="83.65" y2="411.4" stroke="#EBEBEB" stroke-width="0.4"/>
<line x1="30.65" y1="397.21" x2="83.65" y2="397.21" stroke="#EBEBEB" stroke-width="0.4"/>
<line x1="30.65" y1="383.02" x2="83.65" y2="383.02" stroke="#EBEBEB" stroke-width="0.4"/>
<line x1="30.65" y1="368.84" x2="83.65" y2="368.84" stroke="#EBEBEB" stroke-width="0.4"/>
<line x1="41.09" y1="363.5" x2="41.09" y2="414.65" stroke="#E4E4E4" stroke-width="0.75"/>
<line x1="54.47" y1="363.5" x2="54.47" y2="414.65" stroke="#E4E4E4" stroke-width="0.75"/>
<line x1="67.86" y1="363.5" x2="67.86" y2="414.65" stroke="#E4E4E4" stroke-width="0.75"/>
<line x1="81.24" y1="363.5" x2="81.24" y2="414.65" stroke="#E4E4E4" stroke-width="0.75"/>
<line x1="30.65" y1="404.3" x2="83.65" y2="404.3" stroke="#E4E4E4" stroke-width="0.75"/>
<line x1="30.65" y1="390.12" x2="83.65" y2="390.12" stroke="#E4E4E4" stroke-width="0.75"/>
<line x1="30.65" y1="375.93" x2="83.65" y2="375.93" stroke="#E4E4E4" stroke-width="0.75"/>
<polyline points="33.06,404.15 41.09,411.75 54.47,411.5 81.24,410.5" fill="none" stroke="#000000" stroke-width="0.95" stroke-linejoin="round"/>
<circle cx="33.06" cy="404.15" r="2.35" fill="#00008B"/>
<circle cx="41.09" cy="411.75" r="2.35" fill="#00008B"/>
<circle cx="54.47" cy="411.5" r="2.35" fill="#00008B"/>
<circle cx="81.24" cy="410.5" r="2.35" fill="#00008B"/>
<rect x="30.65" y="363.5" width="53" height="51.15" fill="none" stroke="#858585" stroke-width="1.0"/>
<rect x="88.55" y="363.5" width="53" height="51.15" fill="#FFFFFF" stroke="none" stroke-width="0"/>
<line x1="92.3" y1="363.5" x2="92.3" y2="414.65" stroke="#EBEBEB" stroke-width="0.4"/>
<line x1="105.68" y1="363.5" x2="105.68" y2="414.65" stroke="#EBEBEB" stroke-width="0.4"/>
<line x1="119.07" y1="363.5" x2="119.07" y2="414.65" stroke="#EBEBEB" stroke-width="0.4"/>
<line x1="132.45" y1="363.5" x2="132.45" y2="414.65" stroke="#EBEBEB" stroke-width="0.4"/>
<line x1="88.55" y1="411.4" x2="141.55" y2="411.4" stroke="#EBEBEB" stroke-width="0.4"/>
<line x1="88.55" y1="397.21" x2="141.55" y2="397.21" stroke="#EBEBEB" stroke-width="0.4"/>
<line x1="88.55" y1="383.02" x2="141.55" y2="383.02" stroke="#EBEBEB" stroke-width="0.4"/>
<line x1="88.55" y1="368.84" x2="141.55" y2="368.84" stroke="#EBEBEB" stroke-width="0.4"/>
<line x1="98.99" y1="363.5" x2="98.99" y2="414.65" stroke="#E4E4E4" stroke-width="0.75"/>
<line x1="112.37" y1="363.5" x2="112.37" y2="414.65" stroke="#E4E4E4" stroke-width="0.75"/>
<line x1="125.76" y1="363.5" x2="125.76" y2="414.65" stroke="#E4E4E4" stroke-width="0.75"/>
<line x1="139.14" y1="363.5" x2="139.14" y2="414.65" stroke="#E4E4E4" stroke-width="0.75"/>
<line x1="88.55" y1="404.3" x2="141.55" y2="404.3" stroke="#E4E4E4" stroke-width="0.75"/>
<line x1="88.55" y1="390.12" x2="141.55" y2="390.12" stroke="#E4E4E4" stroke-width="0.75"/>
<line x1="88.55" y1="375.93" x2="141.55" y2="375.93" stroke="#E4E4E4" stroke-width="0.75"/>
<polyline points="90.96,403.95 90.96,402.15 98.99,412.25 98.99,410.75 98.99,409.25 112.37,411.35 112.37,409.8 112.37,408.25 139.14,409.45 139.14,407.9 139.14,406.35" fill="none" stroke="#000000" stroke-width="0.95" stroke-linejoin="round"/>
<circle cx="90.96" cy="403.95" r="2.35" fill="#00008B"/>
<circle cx="90.96" cy="402.15" r="2.35" fill="#00008B"/>
<circle cx="98.99" cy="412.25" r="2.35" fill="#00008B"/>
<circle cx="98.99" cy="410.75" r="2.35" fill="#00008B"/>
<circle cx="98.99" cy="409.25" r="2.35" fill="#00008B"/>
<circle cx="112.37" cy="411.35" r="2.35" fill="#00008B"/>
<circle cx="112.37" cy="409.8" r="2.35" fill="#00008B"/>
<circle cx="112.37" cy="408.25" r="2.35" fill="#00008B"/>
<circle cx="139.14" cy="409.45" r="2.35" fill="#00008B"/>
<circle cx="139.14" cy="407.9" r="2.35" fill="#00008B"/>
<circle cx="139.14" cy="406.35" r="2.35" fill="#00008B"/>
<rect x="88.55" y="363.5" width="53" height="51.15" fill="none" stroke="#858585" stroke-width="1.0"/>
<rect x="146.45" y="363.5" width="53" height="51.15" fill="#FFFFFF" stroke="none" stroke-width="0"/>
<line x1="150.2" y1="363.5" x2="150.2" y2="414.65" stroke="#EBEBEB" stroke-width="0.4"/>
<line x1="163.58" y1="363.5" x2="163.58" y2="414.65" stroke="#EBEBEB" stroke-width="0.4"/>
<line x1="176.97" y1="363.5" x2="176.97" y2="414.65" stroke="#EBEBEB" stroke-width="0.4"/>
<line x1="190.35" y1="363.5" x2="190.35" y2="414.65" stroke="#EBEBEB" stroke-width="0.4"/>
<line x1="146.45" y1="411.4" x2="199.45" y2="411.4" stroke="#EBEBEB" stroke-width="0.4"/>
<line x1="146.45" y1="397.21" x2="199.45" y2="397.21" stroke="#EBEBEB" stroke-width="0.4"/>
<line x1="146.45" y1="383.02" x2="199.45" y2="383.02" stroke="#EBEBEB" stroke-width="0.4"/>
<line x1="146.45" y1="368.84" x2="199.45" y2="368.84" stroke="#EBEBEB" stroke-width="0.4"/>
<line x1="156.89" y1="363.5" x2="156.89" y2="414.65" stroke="#E4E4E4" stroke-width="0.75"/>
<line x1="170.27" y1="363.5" x2="170.27" y2="414.65" stroke="#E4E4E4" stroke-width="0.75"/>
<line x1="183.66" y1="363.5" x2="183.66" y2="414.65" stroke="#E4E4E4" stroke-width="0.75"/>
<line x1="197.04" y1="363.5" x2="197.04" y2="414.65" stroke="#E4E4E4" stroke-width="0.75"/>
<line x1="146.45" y1="404.3" x2="199.45" y2="404.3" stroke="#E4E4E4" stroke-width="0.75"/>
<line x1="146.45" y1="390.12" x2="199.45" y2="390.12" stroke="#E4E4E4" stroke-width="0.75"/>
<line x1="146.45" y1="375.93" x2="199.45" y2="375.93" stroke="#E4E4E4" stroke-width="0.75"/>
<polyline points="148.86,400.95 148.86,398.75 156.89,409.65 156.89,408.02 156.89,406.38 156.89,404.75 170.27,409.65 170.27,408.1 170.27,406.55 170.27,405 170.27,403.45 197.04,409.45 197.04,408.03 197.04,406.61 197.04,405.19 197.04,403.77 197.04,402.35" fill="none" stroke="#000000" stroke-width="0.95" stroke-linejoin="round"/>
<circle cx="148.86" cy="400.95" r="2.35" fill="#00008B"/>
<circle cx="148.86" cy="398.75" r="2.35" fill="#00008B"/>
<circle cx="156.89" cy="409.65" r="2.35" fill="#00008B"/>
<circle cx="156.89" cy="408.02" r="2.35" fill="#00008B"/>
<circle cx="156.89" cy="406.38" r="2.35" fill="#00008B"/>
<circle cx="156.89" cy="404.75" r="2.35" fill="#00008B"/>
<circle cx="170.27" cy="409.65" r="2.35" fill="#00008B"/>
<circle cx="170.27" cy="408.1" r="2.35" fill="#00008B"/>
<circle cx="170.27" cy="406.55" r="2.35" fill="#00008B"/>
<circle cx="170.27" cy="405" r="2.35" fill="#00008B"/>
<circle cx="170.27" cy="403.45" r="2.35" fill="#00008B"/>
<circle cx="197.04" cy="409.45" r="2.35" fill="#00008B"/>
<circle cx="197.04" cy="408.03" r="2.35" fill="#00008B"/>
<circle cx="197.04" cy="406.61" r="2.35" fill="#00008B"/>
<circle cx="197.04" cy="405.19" r="2.35" fill="#00008B"/>
<circle cx="197.04" cy="403.77" r="2.35" fill="#00008B"/>
<circle cx="197.04" cy="402.35" r="2.35" fill="#00008B"/>
<rect x="146.45" y="363.5" width="53" height="51.15" fill="none" stroke="#858585" stroke-width="1.0"/>
<rect x="204.35" y="363.5" width="53" height="51.15" fill="#FFFFFF" stroke="none" stroke-width="0"/>
<line x1="208.1" y1="363.5" x2="208.1" y2="414.65" stroke="#EBEBEB" stroke-width="0.4"/>
<line x1="221.48" y1="363.5" x2="221.48" y2="414.65" stroke="#EBEBEB" stroke-width="0.4"/>
<line x1="234.87" y1="363.5" x2="234.87" y2="414.65" stroke="#EBEBEB" stroke-width="0.4"/>
<line x1="248.25" y1="363.5" x2="248.25" y2="414.65" stroke="#EBEBEB" stroke-width="0.4"/>
<line x1="204.35" y1="411.4" x2="257.35" y2="411.4" stroke="#EBEBEB" stroke-width="0.4"/>
<line x1="204.35" y1="397.21" x2="257.35" y2="397.21" stroke="#EBEBEB" stroke-width="0.4"/>
<line x1="204.35" y1="383.02" x2="257.35" y2="383.02" stroke="#EBEBEB" stroke-width="0.4"/>
<line x1="204.35" y1="368.84" x2="257.35" y2="368.84" stroke="#EBEBEB" stroke-width="0.4"/>
<line x1="214.79" y1="363.5" x2="214.79" y2="414.65" stroke="#E4E4E4" stroke-width="0.75"/>
<line x1="228.17" y1="363.5" x2="228.17" y2="414.65" stroke="#E4E4E4" stroke-width="0.75"/>
<line x1="241.56" y1="363.5" x2="241.56" y2="414.65" stroke="#E4E4E4" stroke-width="0.75"/>
<line x1="254.94" y1="363.5" x2="254.94" y2="414.65" stroke="#E4E4E4" stroke-width="0.75"/>
<line x1="204.35" y1="404.3" x2="257.35" y2="404.3" stroke="#E4E4E4" stroke-width="0.75"/>
<line x1="204.35" y1="390.12" x2="257.35" y2="390.12" stroke="#E4E4E4" stroke-width="0.75"/>
<line x1="204.35" y1="375.93" x2="257.35" y2="375.93" stroke="#E4E4E4" stroke-width="0.75"/>
<polyline points="206.76,400.55 206.76,398.25 214.79,409.45 214.79,407.75 214.79,406.05 214.79,404.35 228.17,410.05 228.17,408.57 228.17,407.09 228.17,405.61 228.17,404.13 228.17,402.65 254.94,409.65 254.94,408.19 254.94,406.73 254.94,405.27 254.94,403.81 254.94,402.35" fill="none" stroke="#000000" stroke-width="0.95" stroke-linejoin="round"/>
<circle cx="206.76" cy="400.55" r="2.35" fill="#00008B"/>
<circle cx="206.76" cy="398.25" r="2.35" fill="#00008B"/>
<circle cx="214.79" cy="409.45" r="2.35" fill="#00008B"/>
<circle cx="214.79" cy="407.75" r="2.35" fill="#00008B"/>
<circle cx="214.79" cy="406.05" r="2.35" fill="#00008B"/>
<circle cx="214.79" cy="404.35" r="2.35" fill="#00008B"/>
<circle cx="228.17" cy="410.05" r="2.35" fill="#00008B"/>
<circle cx="228.17" cy="408.57" r="2.35" fill="#00008B"/>
<circle cx="228.17" cy="407.09" r="2.35" fill="#00008B"/>
<circle cx="228.17" cy="405.61" r="2.35" fill="#00008B"/>
<circle cx="228.17" cy="404.13" r="2.35" fill="#00008B"/>
<circle cx="228.17" cy="402.65" r="2.35" fill="#00008B"/>
<circle cx="254.94" cy="409.65" r="2.35" fill="#00008B"/>
<circle cx="254.94" cy="408.19" r="2.35" fill="#00008B"/>
<circle cx="254.94" cy="406.73" r="2.35" fill="#00008B"/>
<circle cx="254.94" cy="405.27" r="2.35" fill="#00008B"/>
<circle cx="254.94" cy="403.81" r="2.35" fill="#00008B"/>
<circle cx="254.94" cy="402.35" r="2.35" fill="#00008B"/>
<rect x="204.35" y="363.5" width="53" height="51.15" fill="none" stroke="#858585" stroke-width="1.0"/>
<rect x="30.65" y="237.9" width="53" height="13.2" fill="#D9D9D9" stroke="#858585" stroke-width="1.0"/>
<text x="57.15" y="246.9" font-size="6.85" fill="#1A1A1A" stroke="#1A1A1A" stroke-width="0.03" text-anchor="middle">max_depth: 1</text>
<rect x="88.55" y="237.9" width="53" height="13.2" fill="#D9D9D9" stroke="#858585" stroke-width="1.0"/>
<text x="115.05" y="246.9" font-size="6.85" fill="#1A1A1A" stroke="#1A1A1A" stroke-width="0.03" text-anchor="middle">max_depth: 2</text>
<rect x="146.45" y="237.9" width="53" height="13.2" fill="#D9D9D9" stroke="#858585" stroke-width="1.0"/>
<text x="172.95" y="246.9" font-size="6.85" fill="#1A1A1A" stroke="#1A1A1A" stroke-width="0.03" text-anchor="middle">max_depth: 5</text>
<rect x="204.35" y="237.9" width="53" height="13.2" fill="#D9D9D9" stroke="#858585" stroke-width="1.0"/>
<text x="230.85" y="246.9" font-size="6.85" fill="#1A1A1A" stroke="#1A1A1A" stroke-width="0.03" text-anchor="middle">max_depth: 10</text>
<rect x="257.35" y="251.1" width="13.25" height="51.15" fill="#D9D9D9" stroke="#858585" stroke-width="1.0"/>
<text x="261.58" y="276.68" font-size="6.85" fill="#1A1A1A" stroke="#1A1A1A" stroke-width="0.03" text-anchor="middle" transform="rotate(90 261.58 276.68)">eta: 1e-04</text>
<rect x="257.35" y="307.3" width="13.25" height="51.15" fill="#D9D9D9" stroke="#858585" stroke-width="1.0"/>
<text x="261.58" y="332.88" font-size="6.85" fill="#1A1A1A" stroke="#1A1A1A" stroke-width="0.03" text-anchor="middle" transform="rotate(90 261.58 332.88)">eta: 0.001</text>
<rect x="257.35" y="363.5" width="13.25" height="51.15" fill="#D9D9D9" stroke="#858585" stroke-width="1.0"/>
<text x="261.58" y="389.07" font-size="6.85" fill="#1A1A1A" stroke="#1A1A1A" stroke-width="0.03" text-anchor="middle" transform="rotate(90 261.58 389.07)">eta: 0.01</text>
<line x1="28.25" y1="291.9" x2="30.65" y2="291.9" stroke="#333333" stroke-width="0.9"/>
<text x="27.05" y="294.62" font-size="6.9" fill="#4D4D4D" stroke="#4D4D4D" stroke-width="0.03" text-anchor="end">15</text>
<line x1="28.25" y1="277.72" x2="30.65" y2="277.72" stroke="#333333" stroke-width="0.9"/>
<text x="27.05" y="280.43" font-size="6.9" fill="#4D4D4D" stroke="#4D4D4D" stroke-width="0.03" text-anchor="end">18</text>
<line x1="28.25" y1="263.53" x2="30.65" y2="263.53" stroke="#333333" stroke-width="0.9"/>
<text x="27.05" y="266.25" font-size="6.9" fill="#4D4D4D" stroke="#4D4D4D" stroke-width="0.03" text-anchor="end">21</text>
<line x1="28.25" y1="348.1" x2="30.65" y2="348.1" stroke="#333333" stroke-width="0.9"/>
<text x="27.05" y="350.82" font-size="6.9" fill="#4D4D4D" stroke="#4D4D4D" stroke-width="0.03" text-anchor="end">15</text>
<line x1="28.25" y1="333.92" x2="30.65" y2="333.92" stroke="#333333" stroke-width="0.9"/>
<text x="27.05" y="336.63" font-size="6.9" fill="#4D4D4D" stroke="#4D4D4D" stroke-width="0.03" text-anchor="end">18</text>
<line x1="28.25" y1="319.73" x2="30.65" y2="319.73" stroke="#333333" stroke-width="0.9"/>
<text x="27.05" y="322.45" font-size="6.9" fill="#4D4D4D" stroke="#4D4D4D" stroke-width="0.03" text-anchor="end">21</text>
<line x1="28.25" y1="404.3" x2="30.65" y2="404.3" stroke="#333333" stroke-width="0.9"/>
<text x="27.05" y="407.02" font-size="6.9" fill="#4D4D4D" stroke="#4D4D4D" stroke-width="0.03" text-anchor="end">15</text>
<line x1="28.25" y1="390.12" x2="30.65" y2="390.12" stroke="#333333" stroke-width="0.9"/>
<text x="27.05" y="392.83" font-size="6.9" fill="#4D4D4D" stroke="#4D4D4D" stroke-width="0.03" text-anchor="end">18</text>
<line x1="28.25" y1="375.93" x2="30.65" y2="375.93" stroke="#333333" stroke-width="0.9"/>
<text x="27.05" y="378.65" font-size="6.9" fill="#4D4D4D" stroke="#4D4D4D" stroke-width="0.03" text-anchor="end">21</text>
<line x1="41.09" y1="414.65" x2="41.09" y2="417.15" stroke="#333333" stroke-width="0.9"/>
<text x="41.09" y="423.95" font-size="6.9" fill="#4D4D4D" stroke="#4D4D4D" stroke-width="0.03" text-anchor="middle">250</text>
<line x1="54.47" y1="414.65" x2="54.47" y2="417.15" stroke="#333333" stroke-width="0.9"/>
<text x="54.47" y="423.95" font-size="6.9" fill="#4D4D4D" stroke="#4D4D4D" stroke-width="0.03" text-anchor="middle">500</text>
<line x1="67.86" y1="414.65" x2="67.86" y2="417.15" stroke="#333333" stroke-width="0.9"/>
<text x="67.86" y="423.95" font-size="6.9" fill="#4D4D4D" stroke="#4D4D4D" stroke-width="0.03" text-anchor="middle">750</text>
<line x1="81.24" y1="414.65" x2="81.24" y2="417.15" stroke="#333333" stroke-width="0.9"/>
<text x="81.24" y="423.95" font-size="6.9" fill="#4D4D4D" stroke="#4D4D4D" stroke-width="0.03" text-anchor="middle">1000</text>
<line x1="98.99" y1="414.65" x2="98.99" y2="417.15" stroke="#333333" stroke-width="0.9"/>
<text x="98.99" y="423.95" font-size="6.9" fill="#4D4D4D" stroke="#4D4D4D" stroke-width="0.03" text-anchor="middle">250</text>
<line x1="112.37" y1="414.65" x2="112.37" y2="417.15" stroke="#333333" stroke-width="0.9"/>
<text x="112.37" y="423.95" font-size="6.9" fill="#4D4D4D" stroke="#4D4D4D" stroke-width="0.03" text-anchor="middle">500</text>
<line x1="125.76" y1="414.65" x2="125.76" y2="417.15" stroke="#333333" stroke-width="0.9"/>
<text x="125.76" y="423.95" font-size="6.9" fill="#4D4D4D" stroke="#4D4D4D" stroke-width="0.03" text-anchor="middle">750</text>
<line x1="139.14" y1="414.65" x2="139.14" y2="417.15" stroke="#333333" stroke-width="0.9"/>
<text x="139.14" y="423.95" font-size="6.9" fill="#4D4D4D" stroke="#4D4D4D" stroke-width="0.03" text-anchor="middle">1000</text>
<line x1="156.89" y1="414.65" x2="156.89" y2="417.15" stroke="#333333" stroke-width="0.9"/>
<text x="156.89" y="423.95" font-size="6.9" fill="#4D4D4D" stroke="#4D4D4D" stroke-width="0.03" text-anchor="middle">250</text>
<line x1="170.27" y1="414.65" x2="170.27" y2="417.15" stroke="#333333" stroke-width="0.9"/>
<text x="170.27" y="423.95" font-size="6.9" fill="#4D4D4D" stroke="#4D4D4D" stroke-width="0.03" text-anchor="middle">500</text>
<line x1="183.66" y1="414.65" x2="183.66" y2="417.15" stroke="#333333" stroke-width="0.9"/>
<text x="183.66" y="423.95" font-size="6.9" fill="#4D4D4D" stroke="#4D4D4D" stroke-width="0.03" text-anchor="middle">750</text>
<line x1="197.04" y1="414.65" x2="197.04" y2="417.15" stroke="#333333" stroke-width="0.9"/>
<text x="197.04" y="423.95" font-size="6.9" fill="#4D4D4D" stroke="#4D4D4D" stroke-width="0.03" text-anchor="middle">1000</text>
<line x1="214.79" y1="414.65" x2="214.79" y2="417.15" stroke="#333333" stroke-width="0.9"/>
<text x="214.79" y="423.95" font-size="6.9" fill="#4D4D4D" stroke="#4D4D4D" stroke-width="0.03" text-anchor="middle">250</text>
<line x1="228.17" y1="414.65" x2="228.17" y2="417.15" stroke="#333333" stroke-width="0.9"/>
<text x="228.17" y="423.95" font-size="6.9" fill="#4D4D4D" stroke="#4D4D4D" stroke-width="0.03" text-anchor="middle">500</text>
<line x1="241.56" y1="414.65" x2="241.56" y2="417.15" stroke="#333333" stroke-width="0.9"/>
<text x="241.56" y="423.95" font-size="6.9" fill="#4D4D4D" stroke="#4D4D4D" stroke-width="0.03" text-anchor="middle">750</text>
<line x1="254.94" y1="414.65" x2="254.94" y2="417.15" stroke="#333333" stroke-width="0.9"/>
<text x="254.94" y="423.95" font-size="6.9" fill="#4D4D4D" stroke="#4D4D4D" stroke-width="0.03" text-anchor="middle">1000</text>
<text x="30.6" y="231.6" font-size="10.4" fill="#000000" stroke="#000000" stroke-width="0.15" text-anchor="start">XGB</text>
<text x="144" y="435" font-size="8.2" fill="#000000" stroke="#000000" stroke-width="0.12" text-anchor="middle">nrounds</text>
<text x="9.8" y="333.38" font-size="8.2" fill="#000000" stroke="#000000" stroke-width="0.12" text-anchor="middle" transform="rotate(-90 9.8 333.38)">RMSE</text>
<rect x="306.55" y="251.4" width="226.85" height="37.2" fill="#FFFFFF" stroke="none" stroke-width="0"/>
<line x1="316.86" y1="251.4" x2="316.86" y2="288.6" stroke="#EBEBEB" stroke-width="0.4"/>
<line x1="375.78" y1="251.4" x2="375.78" y2="288.6" stroke="#EBEBEB" stroke-width="0.4"/>
<line x1="434.71" y1="251.4" x2="434.71" y2="288.6" stroke="#EBEBEB" stroke-width="0.4"/>
<line x1="493.63" y1="251.4" x2="493.63" y2="288.6" stroke="#EBEBEB" stroke-width="0.4"/>
<line x1="306.55" y1="282.35" x2="533.4" y2="282.35" stroke="#EBEBEB" stroke-width="0.4"/>
<line x1="306.55" y1="274.55" x2="533.4" y2="274.55" stroke="#EBEBEB" stroke-width="0.4"/>
<line x1="306.55" y1="266.75" x2="533.4" y2="266.75" stroke="#EBEBEB" stroke-width="0.4"/>
<line x1="306.55" y1="258.95" x2="533.4" y2="258.95" stroke="#EBEBEB" stroke-width="0.4"/>
<line x1="346.32" y1="251.4" x2="346.32" y2="288.6" stroke="#E4E4E4" stroke-width="0.75"/>
<line x1="405.24" y1="251.4" x2="405.24" y2="288.6" stroke="#E4E4E4" stroke-width="0.75"/>
<line x1="464.17" y1="251.4" x2="464.17" y2="288.6" stroke="#E4E4E4" stroke-width="0.75"/>
<line x1="523.09" y1="251.4" x2="523.09" y2="288.6" stroke="#E4E4E4" stroke-width="0.75"/>
<line x1="306.55" y1="286.25" x2="533.4" y2="286.25" stroke="#E4E4E4" stroke-width="0.75"/>
<line x1="306.55" y1="278.45" x2="533.4" y2="278.45" stroke="#E4E4E4" stroke-width="0.75"/>
<line x1="306.55" y1="270.65" x2="533.4" y2="270.65" stroke="#E4E4E4" stroke-width="0.75"/>
<line x1="306.55" y1="262.85" x2="533.4" y2="262.85" stroke="#E4E4E4" stroke-width="0.75"/>
<line x1="306.55" y1="255.05" x2="533.4" y2="255.05" stroke="#E4E4E4" stroke-width="0.75"/>
<polyline points="316.86,286.6 346.32,281.1 375.78,275.9 405.24,269.8 464.17,263 523.09,258.4" fill="none" stroke="#000000" stroke-width="0.95" stroke-linejoin="round"/>
<circle cx="316.86" cy="286.6" r="2.35" fill="#00008B"/>
<circle cx="346.32" cy="281.1" r="2.35" fill="#00008B"/>
<circle cx="375.78" cy="275.9" r="2.35" fill="#00008B"/>
<circle cx="405.24" cy="269.8" r="2.35" fill="#00008B"/>
<circle cx="464.17" cy="263" r="2.35" fill="#00008B"/>
<circle cx="523.09" cy="258.4" r="2.35" fill="#00008B"/>
<rect x="306.55" y="251.4" width="226.85" height="37.2" fill="none" stroke="#858585" stroke-width="1.0"/>
<rect x="533.4" y="251.4" width="13.1" height="37.2" fill="#D9D9D9" stroke="#858585" stroke-width="1.0"/>
<text x="537.55" y="270" font-size="6.85" fill="#1A1A1A" stroke="#1A1A1A" stroke-width="0.03" text-anchor="middle" transform="rotate(90 537.55 270)">sigma: 0.01</text>
<line x1="304.15" y1="286.25" x2="306.55" y2="286.25" stroke="#333333" stroke-width="0.9"/>
<text x="302.95" y="288.97" font-size="6.9" fill="#4D4D4D" stroke="#4D4D4D" stroke-width="0.03" text-anchor="end">14.6</text>
<line x1="304.15" y1="278.45" x2="306.55" y2="278.45" stroke="#333333" stroke-width="0.9"/>
<text x="302.95" y="281.17" font-size="6.9" fill="#4D4D4D" stroke="#4D4D4D" stroke-width="0.03" text-anchor="end">14.7</text>
<line x1="304.15" y1="270.65" x2="306.55" y2="270.65" stroke="#333333" stroke-width="0.9"/>
<text x="302.95" y="273.37" font-size="6.9" fill="#4D4D4D" stroke="#4D4D4D" stroke-width="0.03" text-anchor="end">14.8</text>
<line x1="304.15" y1="262.85" x2="306.55" y2="262.85" stroke="#333333" stroke-width="0.9"/>
<text x="302.95" y="265.56" font-size="6.9" fill="#4D4D4D" stroke="#4D4D4D" stroke-width="0.03" text-anchor="end">14.9</text>
<line x1="304.15" y1="255.05" x2="306.55" y2="255.05" stroke="#333333" stroke-width="0.9"/>
<text x="302.95" y="257.77" font-size="6.9" fill="#4D4D4D" stroke="#4D4D4D" stroke-width="0.03" text-anchor="end">15.0</text>
<rect x="306.55" y="293.4" width="226.85" height="37.2" fill="#FFFFFF" stroke="none" stroke-width="0"/>
<line x1="316.86" y1="293.4" x2="316.86" y2="330.6" stroke="#EBEBEB" stroke-width="0.4"/>
<line x1="375.78" y1="293.4" x2="375.78" y2="330.6" stroke="#EBEBEB" stroke-width="0.4"/>
<line x1="434.71" y1="293.4" x2="434.71" y2="330.6" stroke="#EBEBEB" stroke-width="0.4"/>
<line x1="493.63" y1="293.4" x2="493.63" y2="330.6" stroke="#EBEBEB" stroke-width="0.4"/>
<line x1="306.55" y1="324.35" x2="533.4" y2="324.35" stroke="#EBEBEB" stroke-width="0.4"/>
<line x1="306.55" y1="316.55" x2="533.4" y2="316.55" stroke="#EBEBEB" stroke-width="0.4"/>
<line x1="306.55" y1="308.75" x2="533.4" y2="308.75" stroke="#EBEBEB" stroke-width="0.4"/>
<line x1="306.55" y1="300.95" x2="533.4" y2="300.95" stroke="#EBEBEB" stroke-width="0.4"/>
<line x1="346.32" y1="293.4" x2="346.32" y2="330.6" stroke="#E4E4E4" stroke-width="0.75"/>
<line x1="405.24" y1="293.4" x2="405.24" y2="330.6" stroke="#E4E4E4" stroke-width="0.75"/>
<line x1="464.17" y1="293.4" x2="464.17" y2="330.6" stroke="#E4E4E4" stroke-width="0.75"/>
<line x1="523.09" y1="293.4" x2="523.09" y2="330.6" stroke="#E4E4E4" stroke-width="0.75"/>
<line x1="306.55" y1="328.25" x2="533.4" y2="328.25" stroke="#E4E4E4" stroke-width="0.75"/>
<line x1="306.55" y1="320.45" x2="533.4" y2="320.45" stroke="#E4E4E4" stroke-width="0.75"/>
<line x1="306.55" y1="312.65" x2="533.4" y2="312.65" stroke="#E4E4E4" stroke-width="0.75"/>
<line x1="306.55" y1="304.85" x2="533.4" y2="304.85" stroke="#E4E4E4" stroke-width="0.75"/>
<line x1="306.55" y1="297.05" x2="533.4" y2="297.05" stroke="#E4E4E4" stroke-width="0.75"/>
<polyline points="316.86,317.7 346.32,317.7 375.78,317.7 405.24,317.9 464.17,319 523.09,318.3" fill="none" stroke="#000000" stroke-width="0.95" stroke-linejoin="round"/>
<circle cx="316.86" cy="317.7" r="2.35" fill="#00008B"/>
<circle cx="346.32" cy="317.7" r="2.35" fill="#00008B"/>
<circle cx="375.78" cy="317.7" r="2.35" fill="#00008B"/>
<circle cx="405.24" cy="317.9" r="2.35" fill="#00008B"/>
<circle cx="464.17" cy="319" r="2.35" fill="#00008B"/>
<circle cx="523.09" cy="318.3" r="2.35" fill="#00008B"/>
<rect x="306.55" y="293.4" width="226.85" height="37.2" fill="none" stroke="#858585" stroke-width="1.0"/>
<rect x="533.4" y="293.4" width="13.1" height="37.2" fill="#D9D9D9" stroke="#858585" stroke-width="1.0"/>
<text x="537.55" y="312" font-size="6.85" fill="#1A1A1A" stroke="#1A1A1A" stroke-width="0.03" text-anchor="middle" transform="rotate(90 537.55 312)">sigma: 0.05</text>
<line x1="304.15" y1="328.25" x2="306.55" y2="328.25" stroke="#333333" stroke-width="0.9"/>
<text x="302.95" y="330.97" font-size="6.9" fill="#4D4D4D" stroke="#4D4D4D" stroke-width="0.03" text-anchor="end">14.6</text>
<line x1="304.15" y1="320.45" x2="306.55" y2="320.45" stroke="#333333" stroke-width="0.9"/>
<text x="302.95" y="323.17" font-size="6.9" fill="#4D4D4D" stroke="#4D4D4D" stroke-width="0.03" text-anchor="end">14.7</text>
<line x1="304.15" y1="312.65" x2="306.55" y2="312.65" stroke="#333333" stroke-width="0.9"/>
<text x="302.95" y="315.36" font-size="6.9" fill="#4D4D4D" stroke="#4D4D4D" stroke-width="0.03" text-anchor="end">14.8</text>
<line x1="304.15" y1="304.85" x2="306.55" y2="304.85" stroke="#333333" stroke-width="0.9"/>
<text x="302.95" y="307.56" font-size="6.9" fill="#4D4D4D" stroke="#4D4D4D" stroke-width="0.03" text-anchor="end">14.9</text>
<line x1="304.15" y1="297.05" x2="306.55" y2="297.05" stroke="#333333" stroke-width="0.9"/>
<text x="302.95" y="299.76" font-size="6.9" fill="#4D4D4D" stroke="#4D4D4D" stroke-width="0.03" text-anchor="end">15.0</text>
<rect x="306.55" y="335.4" width="226.85" height="37.2" fill="#FFFFFF" stroke="none" stroke-width="0"/>
<line x1="316.86" y1="335.4" x2="316.86" y2="372.6" stroke="#EBEBEB" stroke-width="0.4"/>
<line x1="375.78" y1="335.4" x2="375.78" y2="372.6" stroke="#EBEBEB" stroke-width="0.4"/>
<line x1="434.71" y1="335.4" x2="434.71" y2="372.6" stroke="#EBEBEB" stroke-width="0.4"/>
<line x1="493.63" y1="335.4" x2="493.63" y2="372.6" stroke="#EBEBEB" stroke-width="0.4"/>
<line x1="306.55" y1="366.35" x2="533.4" y2="366.35" stroke="#EBEBEB" stroke-width="0.4"/>
<line x1="306.55" y1="358.55" x2="533.4" y2="358.55" stroke="#EBEBEB" stroke-width="0.4"/>
<line x1="306.55" y1="350.75" x2="533.4" y2="350.75" stroke="#EBEBEB" stroke-width="0.4"/>
<line x1="306.55" y1="342.95" x2="533.4" y2="342.95" stroke="#EBEBEB" stroke-width="0.4"/>
<line x1="346.32" y1="335.4" x2="346.32" y2="372.6" stroke="#E4E4E4" stroke-width="0.75"/>
<line x1="405.24" y1="335.4" x2="405.24" y2="372.6" stroke="#E4E4E4" stroke-width="0.75"/>
<line x1="464.17" y1="335.4" x2="464.17" y2="372.6" stroke="#E4E4E4" stroke-width="0.75"/>
<line x1="523.09" y1="335.4" x2="523.09" y2="372.6" stroke="#E4E4E4" stroke-width="0.75"/>
<line x1="306.55" y1="370.25" x2="533.4" y2="370.25" stroke="#E4E4E4" stroke-width="0.75"/>
<line x1="306.55" y1="362.45" x2="533.4" y2="362.45" stroke="#E4E4E4" stroke-width="0.75"/>
<line x1="306.55" y1="354.65" x2="533.4" y2="354.65" stroke="#E4E4E4" stroke-width="0.75"/>
<line x1="306.55" y1="346.85" x2="533.4" y2="346.85" stroke="#E4E4E4" stroke-width="0.75"/>
<line x1="306.55" y1="339.05" x2="533.4" y2="339.05" stroke="#E4E4E4" stroke-width="0.75"/>
<polyline points="316.86,345.9 346.32,346.8 375.78,347.2 405.24,346.6 464.17,347 523.09,348.3" fill="none" stroke="#000000" stroke-width="0.95" stroke-linejoin="round"/>
<circle cx="316.86" cy="345.9" r="2.35" fill="#00008B"/>
<circle cx="346.32" cy="346.8" r="2.35" fill="#00008B"/>
<circle cx="375.78" cy="347.2" r="2.35" fill="#00008B"/>
<circle cx="405.24" cy="346.6" r="2.35" fill="#00008B"/>
<circle cx="464.17" cy="347" r="2.35" fill="#00008B"/>
<circle cx="523.09" cy="348.3" r="2.35" fill="#00008B"/>
<rect x="306.55" y="335.4" width="226.85" height="37.2" fill="none" stroke="#858585" stroke-width="1.0"/>
<rect x="533.4" y="335.4" width="13.1" height="37.2" fill="#D9D9D9" stroke="#858585" stroke-width="1.0"/>
<text x="537.55" y="354" font-size="6.85" fill="#1A1A1A" stroke="#1A1A1A" stroke-width="0.03" text-anchor="middle" transform="rotate(90 537.55 354)">sigma: 0.1</text>
<line x1="304.15" y1="370.25" x2="306.55" y2="370.25" stroke="#333333" stroke-width="0.9"/>
<text x="302.95" y="372.97" font-size="6.9" fill="#4D4D4D" stroke="#4D4D4D" stroke-width="0.03" text-anchor="end">14.6</text>
<line x1="304.15" y1="362.45" x2="306.55" y2="362.45" stroke="#333333" stroke-width="0.9"/>
<text x="302.95" y="365.17" font-size="6.9" fill="#4D4D4D" stroke="#4D4D4D" stroke-width="0.03" text-anchor="end">14.7</text>
<line x1="304.15" y1="354.65" x2="306.55" y2="354.65" stroke="#333333" stroke-width="0.9"/>
<text x="302.95" y="357.36" font-size="6.9" fill="#4D4D4D" stroke="#4D4D4D" stroke-width="0.03" text-anchor="end">14.8</text>
<line x1="304.15" y1="346.85" x2="306.55" y2="346.85" stroke="#333333" stroke-width="0.9"/>
<text x="302.95" y="349.56" font-size="6.9" fill="#4D4D4D" stroke="#4D4D4D" stroke-width="0.03" text-anchor="end">14.9</text>
<line x1="304.15" y1="339.05" x2="306.55" y2="339.05" stroke="#333333" stroke-width="0.9"/>
<text x="302.95" y="341.76" font-size="6.9" fill="#4D4D4D" stroke="#4D4D4D" stroke-width="0.03" text-anchor="end">15.0</text>
<rect x="306.55" y="377.4" width="226.85" height="37.2" fill="#FFFFFF" stroke="none" stroke-width="0"/>
<line x1="316.86" y1="377.4" x2="316.86" y2="414.6" stroke="#EBEBEB" stroke-width="0.4"/>
<line x1="375.78" y1="377.4" x2="375.78" y2="414.6" stroke="#EBEBEB" stroke-width="0.4"/>
<line x1="434.71" y1="377.4" x2="434.71" y2="414.6" stroke="#EBEBEB" stroke-width="0.4"/>
<line x1="493.63" y1="377.4" x2="493.63" y2="414.6" stroke="#EBEBEB" stroke-width="0.4"/>
<line x1="306.55" y1="408.35" x2="533.4" y2="408.35" stroke="#EBEBEB" stroke-width="0.4"/>
<line x1="306.55" y1="400.55" x2="533.4" y2="400.55" stroke="#EBEBEB" stroke-width="0.4"/>
<line x1="306.55" y1="392.75" x2="533.4" y2="392.75" stroke="#EBEBEB" stroke-width="0.4"/>
<line x1="306.55" y1="384.95" x2="533.4" y2="384.95" stroke="#EBEBEB" stroke-width="0.4"/>
<line x1="346.32" y1="377.4" x2="346.32" y2="414.6" stroke="#E4E4E4" stroke-width="0.75"/>
<line x1="405.24" y1="377.4" x2="405.24" y2="414.6" stroke="#E4E4E4" stroke-width="0.75"/>
<line x1="464.17" y1="377.4" x2="464.17" y2="414.6" stroke="#E4E4E4" stroke-width="0.75"/>
<line x1="523.09" y1="377.4" x2="523.09" y2="414.6" stroke="#E4E4E4" stroke-width="0.75"/>
<line x1="306.55" y1="412.25" x2="533.4" y2="412.25" stroke="#E4E4E4" stroke-width="0.75"/>
<line x1="306.55" y1="404.45" x2="533.4" y2="404.45" stroke="#E4E4E4" stroke-width="0.75"/>
<line x1="306.55" y1="396.65" x2="533.4" y2="396.65" stroke="#E4E4E4" stroke-width="0.75"/>
<line x1="306.55" y1="388.85" x2="533.4" y2="388.85" stroke="#E4E4E4" stroke-width="0.75"/>
<line x1="306.55" y1="381.05" x2="533.4" y2="381.05" stroke="#E4E4E4" stroke-width="0.75"/>
<polyline points="316.86,382.9 346.32,381.2 375.78,380.7 405.24,378.8 464.17,379.2 523.09,380.9" fill="none" stroke="#000000" stroke-width="0.95" stroke-linejoin="round"/>
<circle cx="316.86" cy="382.9" r="2.35" fill="#00008B"/>
<circle cx="346.32" cy="381.2" r="2.35" fill="#00008B"/>
<circle cx="375.78" cy="380.7" r="2.35" fill="#00008B"/>
<circle cx="405.24" cy="378.8" r="2.35" fill="#00008B"/>
<circle cx="464.17" cy="379.2" r="2.35" fill="#00008B"/>
<circle cx="523.09" cy="380.9" r="2.35" fill="#00008B"/>
<rect x="306.55" y="377.4" width="226.85" height="37.2" fill="none" stroke="#858585" stroke-width="1.0"/>
<rect x="533.4" y="377.4" width="13.1" height="37.2" fill="#D9D9D9" stroke="#858585" stroke-width="1.0"/>
<text x="537.55" y="396" font-size="6.85" fill="#1A1A1A" stroke="#1A1A1A" stroke-width="0.03" text-anchor="middle" transform="rotate(90 537.55 396)">sigma: 0.2</text>
<line x1="304.15" y1="412.25" x2="306.55" y2="412.25" stroke="#333333" stroke-width="0.9"/>
<text x="302.95" y="414.97" font-size="6.9" fill="#4D4D4D" stroke="#4D4D4D" stroke-width="0.03" text-anchor="end">14.6</text>
<line x1="304.15" y1="404.45" x2="306.55" y2="404.45" stroke="#333333" stroke-width="0.9"/>
<text x="302.95" y="407.17" font-size="6.9" fill="#4D4D4D" stroke="#4D4D4D" stroke-width="0.03" text-anchor="end">14.7</text>
<line x1="304.15" y1="396.65" x2="306.55" y2="396.65" stroke="#333333" stroke-width="0.9"/>
<text x="302.95" y="399.36" font-size="6.9" fill="#4D4D4D" stroke="#4D4D4D" stroke-width="0.03" text-anchor="end">14.8</text>
<line x1="304.15" y1="388.85" x2="306.55" y2="388.85" stroke="#333333" stroke-width="0.9"/>
<text x="302.95" y="391.56" font-size="6.9" fill="#4D4D4D" stroke="#4D4D4D" stroke-width="0.03" text-anchor="end">14.9</text>
<line x1="304.15" y1="381.05" x2="306.55" y2="381.05" stroke="#333333" stroke-width="0.9"/>
<text x="302.95" y="383.76" font-size="6.9" fill="#4D4D4D" stroke="#4D4D4D" stroke-width="0.03" text-anchor="end">15.0</text>
<line x1="346.32" y1="414.6" x2="346.32" y2="417.1" stroke="#333333" stroke-width="0.9"/>
<text x="346.32" y="423.9" font-size="6.9" fill="#4D4D4D" stroke="#4D4D4D" stroke-width="0.03" text-anchor="middle">0.5</text>
<line x1="405.24" y1="414.6" x2="405.24" y2="417.1" stroke="#333333" stroke-width="0.9"/>
<text x="405.24" y="423.9" font-size="6.9" fill="#4D4D4D" stroke="#4D4D4D" stroke-width="0.03" text-anchor="middle">1.0</text>
<line x1="464.17" y1="414.6" x2="464.17" y2="417.1" stroke="#333333" stroke-width="0.9"/>
<text x="464.17" y="423.9" font-size="6.9" fill="#4D4D4D" stroke="#4D4D4D" stroke-width="0.03" text-anchor="middle">1.5</text>
<line x1="523.09" y1="414.6" x2="523.09" y2="417.1" stroke="#333333" stroke-width="0.9"/>
<text x="523.09" y="423.9" font-size="6.9" fill="#4D4D4D" stroke="#4D4D4D" stroke-width="0.03" text-anchor="middle">2.0</text>
<text x="306.6" y="231.8" font-size="10.4" fill="#000000" stroke="#000000" stroke-width="0.15" text-anchor="start">SVM</text>
<text x="419.98" y="434" font-size="8.2" fill="#000000" stroke="#000000" stroke-width="0.12" text-anchor="middle">C</text>
<text x="285.5" y="333.3" font-size="8.2" fill="#000000" stroke="#000000" stroke-width="0.12" text-anchor="middle" transform="rotate(-90 285.5 333.3)">RMSE</text>
</svg>
</body></html>
